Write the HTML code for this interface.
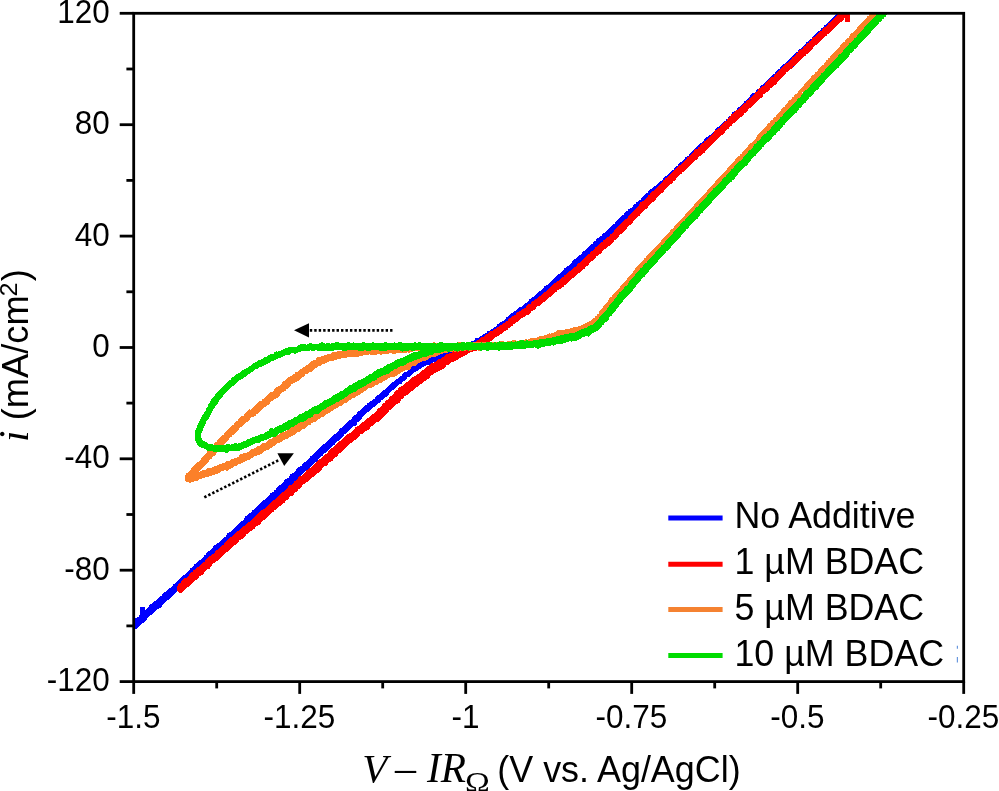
<!DOCTYPE html>
<html lang="en"><head><meta charset="utf-8"><title>CV plot</title>
<style>html,body{margin:0;padding:0;background:#fff}svg{display:block}</style></head>
<body>
<svg width="999" height="791" viewBox="0 0 999 791">
<rect width="999" height="791" fill="#fff"/>
<defs><clipPath id="cp"><rect x="133.7" y="13.3" width="830.0" height="668.3"/></clipPath></defs>
<g clip-path="url(#cp)" shape-rendering="crispEdges">
<g fill="none" stroke="#0000ff" stroke-linejoin="round" stroke-linecap="round"><path d="M134.0 624.9 L134.3 625.4 L134.5 625.5 L134.9 624.5 L135.3 623.7 L135.8 623.8 L136.5 623.5 L137.4 623.0 L137.9 621.4 L138.5 620.7 L139.2 621.0 L139.9 620.3 L140.8 620.1" stroke-width="7.50"/><path d="M140.8 620.1 L141.7 619.1 L142.3 617.9 L143.0 617.1 L143.6 617.9 L144.3 616.1 L145.0 615.0 L145.7 614.1 L146.4 614.0 L147.2 613.4 L147.9 612.5 L148.6 612.0 L149.4 611.5" stroke-width="7.48"/><path d="M149.4 611.5 L150.1 611.0 L150.8 610.6 L151.5 609.5 L152.3 607.8 L152.9 608.3 L153.6 606.7 L154.3 606.6 L155.2 605.2 L156.1 605.1 L156.9 604.1 L157.7 603.8 L158.4 604.8" stroke-width="7.46"/><path d="M158.4 604.8 L159.2 602.7 L159.9 602.3 L160.7 600.6 L161.6 600.2 L162.4 600.0 L163.1 599.1 L163.8 598.7 L164.4 598.0 L165.3 596.7 L166.1 596.7 L166.9 595.3 L167.7 595.9" stroke-width="7.43"/><path d="M167.7 595.9 L168.5 594.2 L169.2 593.9 L170.0 592.9 L170.7 592.7 L171.5 591.3 L172.2 591.3 L173.0 590.2 L173.7 590.1 L174.4 589.2 L175.1 588.3 L175.9 587.1 L176.6 587.1" stroke-width="7.40"/><path d="M176.6 587.1 L177.3 586.4 L178.0 586.3 L178.8 584.7 L179.6 584.3 L180.3 583.6 L181.1 582.7 L181.9 582.0 L182.7 581.2 L183.4 580.1 L184.1 579.2 L184.9 578.8 L185.6 578.6" stroke-width="7.37"/><path d="M185.6 578.6 L186.3 578.5 L187.0 577.7 L187.7 577.0 L188.5 576.2 L189.2 575.4 L190.0 574.4 L190.7 574.0 L191.5 573.8 L192.2 572.1 L193.0 571.1 L193.7 571.7 L194.5 570.3" stroke-width="7.35"/><path d="M194.5 570.3 L195.3 569.8 L196.0 569.1 L196.8 567.4 L197.6 568.3 L198.3 567.5 L199.1 566.0 L199.9 565.4 L200.6 564.4 L201.4 563.2 L202.2 562.8 L202.9 562.3 L203.7 562.0" stroke-width="7.32"/><path d="M203.7 562.0 L204.4 561.2 L205.2 560.2 L205.9 560.1 L206.7 558.4 L207.4 558.3 L208.2 557.9 L208.9 556.5 L209.7 555.0 L210.4 554.6 L211.2 554.5 L211.9 554.1 L212.7 553.9" stroke-width="7.30"/><path d="M212.7 553.9 L213.4 552.0 L214.2 551.6 L214.9 551.4 L215.6 550.4 L216.2 548.6 L216.9 549.4 L217.6 549.7 L218.3 548.6 L219.0 546.9 L219.7 546.3 L220.4 546.0 L221.1 546.5" stroke-width="7.27"/><path d="M221.1 546.5 L221.8 545.1 L222.5 544.1 L223.2 544.1 L223.9 542.8 L224.6 543.0 L225.4 541.2 L226.1 540.4 L226.8 540.4 L227.5 540.2 L228.2 539.2 L228.9 538.3 L229.6 536.6" stroke-width="7.25"/><path d="M229.6 536.6 L230.3 536.3 L231.0 535.7 L231.7 535.1 L232.4 535.1 L233.1 534.0 L233.8 533.9 L234.5 533.0 L235.2 532.1 L235.9 531.6 L236.6 531.2 L237.4 530.7 L238.2 529.3" stroke-width="7.23"/><path d="M238.2 529.3 L239.0 528.6 L239.8 527.4 L240.5 528.0 L241.3 527.5 L242.1 525.9 L242.8 525.0 L243.6 523.9 L244.3 523.8 L245.0 523.3 L245.8 523.6 L246.5 522.1 L247.2 520.8" stroke-width="7.20"/><path d="M247.2 520.8 L247.9 519.2 L248.6 520.4 L249.3 519.4 L250.0 517.8 L250.6 517.9 L251.3 516.5 L252.0 518.3 L252.7 516.9 L253.4 515.8 L254.0 514.8 L254.7 513.1 L255.4 513.3" stroke-width="7.18"/><path d="M255.4 513.3 L256.1 512.1 L256.8 512.4 L257.5 510.5 L258.1 510.3 L258.8 510.8 L259.5 510.6 L260.3 508.5 L261.0 507.4 L261.8 507.8 L262.5 507.3 L263.2 505.7 L264.0 505.0" stroke-width="7.15"/><path d="M264.0 505.0 L264.7 504.4 L265.4 503.4 L266.2 502.9 L266.9 503.2 L267.7 502.3 L268.5 502.3 L269.2 500.6 L269.9 499.8 L270.6 498.7 L271.3 498.4 L272.0 497.2 L272.7 496.2" stroke-width="7.12"/><path d="M272.7 496.2 L273.4 496.7 L274.1 496.6 L274.8 495.7 L275.5 495.3 L276.2 494.1 L277.0 492.8 L277.7 492.4 L278.5 491.5 L279.2 490.4 L280.0 489.4 L280.7 488.7 L281.5 488.8" stroke-width="7.10"/><path d="M281.5 488.8 L282.2 488.3 L283.0 487.3 L283.7 487.5 L284.5 486.3 L285.2 485.7 L286.0 485.4 L286.7 483.7 L287.5 482.3 L288.2 482.8 L289.0 481.6 L289.7 481.8 L290.4 480.8" stroke-width="7.07"/><path d="M290.4 480.8 L291.2 480.4 L291.9 479.6 L292.6 477.5 L293.4 478.0 L294.1 476.8 L294.9 476.0 L295.6 475.5 L296.3 475.4 L297.1 474.9 L297.8 474.2 L298.6 472.2 L299.3 471.9" stroke-width="7.04"/><path d="M299.3 471.9 L300.1 470.3 L300.8 470.6 L301.6 470.4 L302.3 469.1 L303.1 468.9 L303.8 468.2 L304.6 467.9 L305.3 466.4 L306.0 465.6 L306.7 464.9 L307.5 465.5 L308.2 464.7" stroke-width="7.02"/><path d="M308.2 464.7 L308.9 463.4 L309.6 462.8 L310.3 462.1 L311.1 461.4 L311.8 460.6 L312.5 459.8 L313.2 458.7 L313.9 458.2 L314.7 458.7 L315.4 457.7 L316.1 456.7 L316.8 455.9" stroke-width="7.00"/><path d="M316.8 455.9 L317.5 455.3 L318.2 454.8 L318.9 453.7 L319.6 453.4 L320.4 452.8 L321.1 451.6 L321.8 450.9 L322.5 450.1 L323.2 449.4 L323.9 449.7 L324.6 447.5 L325.4 447.7" stroke-width="6.98"/><path d="M325.4 447.7 L326.1 447.0 L326.8 446.3 L327.5 446.0 L328.2 445.9 L329.0 444.7 L329.7 443.9 L330.4 443.0 L331.1 442.5 L331.9 442.4 L332.6 441.1 L333.3 439.9 L334.1 439.1" stroke-width="6.95"/><path d="M334.1 439.1 L334.9 438.5 L335.6 437.6 L336.4 438.1 L337.1 437.2 L337.9 436.2 L338.7 436.3 L339.4 434.6 L340.2 434.5 L340.9 433.9 L341.7 432.0 L342.4 431.1 L343.2 430.7" stroke-width="6.93"/><path d="M343.2 430.7 L343.9 431.0 L344.7 430.6 L345.4 428.7 L346.2 428.9 L346.9 427.7 L347.7 426.9 L348.4 426.1 L349.1 425.5 L349.8 424.1 L350.6 423.7 L351.3 422.9 L352.1 423.0" stroke-width="6.88"/><path d="M352.1 423.0 L352.9 423.2 L353.7 422.9 L354.4 420.7 L355.1 419.1 L355.9 418.9 L356.6 417.9 L357.4 418.6 L358.0 417.5 L358.6 416.2 L359.1 416.3 L359.7 415.7 L360.3 414.0" stroke-width="6.69"/><path d="M360.3 414.0 L361.0 413.7 L361.9 413.1 L362.8 412.4 L363.5 411.8 L364.3 410.9 L365.0 410.5 L365.8 409.5 L366.5 408.6 L367.3 409.1 L368.0 408.1 L368.8 407.4 L369.6 405.7" stroke-width="6.40"/><path d="M369.6 405.7 L370.3 405.6 L371.1 405.6 L371.9 403.9 L372.6 404.3 L373.4 403.1 L374.2 402.8 L375.0 401.9 L375.7 401.4 L376.5 401.2 L377.3 399.9 L378.0 400.1 L378.8 398.4" stroke-width="6.17"/><path d="M378.8 398.4 L379.5 397.6 L380.3 397.7 L381.0 396.3 L381.7 395.9 L382.5 395.9 L383.2 395.5 L384.0 393.4 L384.7 393.7 L385.5 393.9 L386.2 393.0 L386.9 391.6 L387.7 390.7" stroke-width="5.95"/><path d="M387.7 390.7 L388.4 390.1 L389.2 389.1 L389.9 388.8 L390.6 388.3 L391.3 387.7 L392.0 387.7 L392.7 386.5 L393.4 385.2 L394.1 385.7 L394.8 384.3 L395.5 383.9 L396.1 383.5" stroke-width="5.75"/><path d="M396.1 383.5 L397.1 382.6 L398.0 381.5 L398.9 381.1 L399.7 381.6 L400.6 379.7 L401.4 379.1 L402.1 379.0 L402.9 378.3 L403.6 377.7 L404.4 377.1 L405.1 375.1 L405.8 374.9" stroke-width="5.61"/><path d="M405.8 374.9 L406.5 374.9 L407.2 374.6 L407.9 374.5 L408.6 373.6 L409.3 372.7 L410.0 372.2 L410.7 371.6 L411.4 371.2 L412.1 371.0 L412.8 370.0 L413.5 369.2 L414.2 368.6" stroke-width="5.60"/><path d="M414.2 368.6 L414.9 369.1 L415.6 368.8 L416.3 368.3 L417.0 367.7 L417.7 367.3 L418.3 366.4 L419.0 366.3 L419.6 365.1 L420.9 364.6 L422.1 363.7 L423.3 363.9 L424.4 362.8" stroke-width="5.61"/><path d="M424.4 362.8 L425.5 362.5 L426.6 362.3 L427.7 362.4 L428.8 361.0 L430.0 360.3 L431.2 360.7 L432.4 359.4 L433.7 359.6 L434.9 358.7 L436.2 358.5 L437.5 357.2 L438.7 357.9" stroke-width="5.82"/><path d="M438.7 357.9 L440.0 357.0 L441.2 356.3 L442.4 357.3 L443.5 356.4 L444.7 357.3 L445.9 355.5 L447.1 354.4 L448.5 354.0 L449.3 354.5 L450.0 353.5 L450.8 353.3 L451.6 353.1" stroke-width="6.06"/><path d="M451.6 353.1 L452.5 352.0 L453.4 352.1 L454.3 351.5 L455.2 350.7 L456.2 351.4 L457.2 351.0 L458.1 350.4 L459.1 349.4 L460.1 348.4 L461.1 349.2 L462.1 348.7 L463.1 347.5" stroke-width="6.19"/><path d="M463.1 347.5 L464.0 347.7 L465.0 346.7 L465.9 347.0 L466.9 346.8 L467.8 346.5 L468.8 346.1 L469.7 345.7 L470.6 344.7 L471.5 344.6 L472.5 344.2 L473.4 343.9 L474.4 343.8" stroke-width="6.32"/><path d="M474.4 343.8 L475.4 343.5 L476.4 343.6 L477.4 341.1 L478.4 341.7 L479.5 341.0 L480.6 341.6 L481.4 340.7 L482.1 338.9 L482.9 339.2 L483.7 338.4 L484.5 338.6 L485.4 337.2" stroke-width="6.45"/><path d="M485.4 337.2 L486.2 337.0 L487.0 336.4 L487.9 335.9 L488.7 335.1 L489.6 333.9 L490.5 334.3 L491.3 334.2 L492.2 333.1 L493.1 332.0 L494.0 331.9 L494.8 331.5 L495.7 330.6" stroke-width="6.57"/><path d="M495.7 330.6 L496.6 330.0 L497.4 330.1 L498.3 328.4 L499.1 327.9 L500.0 326.6 L500.8 326.5 L501.6 325.9 L502.5 325.2 L503.3 324.7 L504.2 325.3 L505.0 323.8 L505.9 323.1" stroke-width="6.70"/><path d="M505.9 323.1 L506.7 323.5 L507.6 321.9 L508.5 320.2 L509.3 320.5 L510.2 319.2 L511.0 319.8 L511.9 317.8 L512.7 317.3 L513.5 316.1 L514.3 316.3 L515.1 315.2 L515.9 315.0" stroke-width="6.82"/><path d="M515.9 315.0 L516.6 314.3 L517.3 313.6 L518.0 313.8 L519.0 313.1 L520.0 311.9 L520.7 310.8 L521.5 310.1 L522.5 310.1 L523.2 310.8 L523.8 309.3 L524.6 308.4 L525.7 307.6" stroke-width="6.96"/><path d="M525.7 307.6 L526.6 306.7 L527.4 306.0 L528.3 305.7 L529.1 305.9 L530.0 304.6 L530.7 303.7 L531.4 302.5 L532.1 302.7 L532.8 302.1 L533.5 300.9 L534.2 300.3 L534.9 300.2" stroke-width="7.10"/><path d="M534.9 300.2 L535.6 300.2 L536.4 299.4 L537.1 298.6 L537.8 297.7 L538.6 297.3 L539.4 296.4 L540.2 296.8 L541.0 294.6 L541.8 294.0 L542.7 294.2 L543.4 292.9 L544.2 293.0" stroke-width="7.23"/><path d="M544.2 293.0 L544.9 291.7 L545.7 291.0 L546.4 290.1 L547.2 288.9 L547.9 288.4 L548.7 289.3 L549.5 288.1 L550.2 287.3 L551.0 286.8 L551.8 286.0 L552.5 285.5 L553.3 284.2" stroke-width="7.35"/><path d="M553.3 284.2 L554.1 283.4 L554.9 283.4 L555.6 282.1 L556.4 280.8 L557.2 280.6 L557.9 279.9 L558.7 279.8 L559.4 278.5 L560.2 277.6 L560.9 277.3 L561.6 277.6 L562.4 276.3" stroke-width="7.46"/><path d="M562.4 276.3 L563.1 275.7 L563.8 275.0 L564.6 274.4 L565.4 274.1 L566.2 273.7 L566.9 271.5 L567.7 272.1 L568.5 270.9 L569.2 270.0 L570.0 270.7 L570.7 268.9 L571.4 269.2" stroke-width="7.57"/><path d="M571.4 269.2 L572.1 268.2 L572.9 266.5 L573.6 266.4 L574.3 266.0 L575.0 264.9 L575.7 263.1 L576.4 263.3 L577.1 262.9 L577.8 261.8 L578.5 262.6 L579.2 261.1 L579.9 260.3" stroke-width="7.59"/><path d="M579.9 260.3 L580.6 259.6 L581.3 258.8 L582.0 258.1 L582.7 257.9 L583.4 257.5 L584.1 256.5 L584.7 256.0 L585.4 254.7 L586.2 254.9 L587.0 253.6 L587.8 253.3 L588.6 252.1" stroke-width="7.57"/><path d="M588.6 252.1 L589.4 251.5 L590.1 251.2 L590.9 249.8 L591.6 250.9 L592.4 249.2 L593.1 248.3 L593.8 247.3 L594.5 247.8 L595.2 247.2 L596.0 246.0 L596.7 244.4 L597.3 244.1" stroke-width="7.56"/><path d="M597.3 244.1 L598.0 244.1 L598.7 243.0 L599.3 242.0 L600.0 241.3 L600.7 240.8 L601.5 240.6 L602.2 239.6 L603.0 239.2 L603.8 239.9 L604.7 238.8 L605.5 236.5 L606.3 236.3" stroke-width="7.54"/><path d="M606.3 236.3 L607.1 235.5 L607.8 234.7 L608.5 234.6 L609.3 233.3 L610.0 232.6 L610.7 231.9 L611.4 231.3 L612.1 231.4 L612.9 230.5 L613.6 228.7 L614.4 228.3 L615.2 227.4" stroke-width="7.52"/><path d="M615.2 227.4 L616.1 227.4 L616.9 226.5 L617.6 226.1 L618.4 225.0 L619.1 223.3 L619.8 223.7 L620.6 223.0 L621.4 222.3 L622.3 220.7 L623.1 220.5 L623.8 219.5 L624.5 218.8" stroke-width="7.51"/><path d="M624.5 218.8 L625.2 218.7 L625.9 218.1 L626.6 216.8 L627.4 215.6 L628.1 214.5 L628.9 214.6 L629.6 214.9 L630.4 213.8 L631.2 211.9 L631.9 211.7 L632.7 211.7 L633.5 211.7" stroke-width="7.49"/><path d="M633.5 211.7 L634.3 210.8 L635.1 209.6 L635.9 208.7 L636.6 207.3 L637.4 206.8 L638.2 206.2 L639.0 205.2 L639.8 204.9 L640.6 204.0 L641.4 203.5 L642.2 203.4 L643.0 202.4" stroke-width="7.47"/><path d="M643.0 202.4 L643.8 201.5 L644.6 200.4 L645.4 199.0 L646.2 198.8 L646.9 198.6 L647.7 197.1 L648.5 197.5 L649.2 196.1 L650.0 195.7 L650.7 194.7 L651.4 193.6 L652.1 194.6" stroke-width="7.46"/><path d="M652.1 194.6 L652.8 192.6 L653.5 192.8 L654.2 191.5 L655.0 191.1 L655.7 190.0 L656.5 189.4 L657.2 189.5 L657.9 189.5 L658.7 187.5 L659.4 187.2 L660.1 187.0 L660.9 185.7" stroke-width="7.44"/><path d="M660.9 185.7 L661.6 185.6 L662.3 184.3 L663.2 184.2 L664.0 183.4 L664.8 183.1 L665.6 182.0 L666.4 180.5 L667.2 180.6 L667.9 179.2 L668.7 179.3 L669.5 179.1 L670.3 178.0" stroke-width="7.42"/><path d="M670.3 178.0 L671.1 176.6 L671.8 176.7 L672.6 175.6 L673.4 174.1 L674.2 173.7 L674.9 174.0 L675.7 172.6 L676.4 172.0 L677.1 171.1 L677.8 169.8 L678.6 169.6 L679.3 169.4" stroke-width="7.41"/><path d="M679.3 169.4 L680.0 168.7 L680.7 167.8 L681.5 166.1 L682.2 167.0 L682.9 166.3 L683.6 165.7 L684.4 165.2 L685.1 163.7 L685.8 162.8 L686.6 162.5 L687.3 162.6 L688.0 160.3" stroke-width="7.39"/><path d="M688.0 160.3 L688.8 160.1 L689.5 159.3 L690.2 159.2 L690.9 159.0 L691.7 157.6 L692.4 156.3 L693.1 156.1 L693.8 155.4 L694.6 154.0 L695.3 154.5 L696.0 153.2 L696.8 153.0" stroke-width="7.36"/><path d="M696.8 153.0 L697.5 151.4 L698.3 151.8 L699.0 149.9 L699.8 150.3 L700.5 148.3 L701.3 149.0 L702.0 147.6 L702.7 146.2 L703.5 146.1 L704.2 145.7 L705.0 144.4 L705.7 143.9" stroke-width="7.34"/><path d="M705.7 143.9 L706.5 143.6 L707.2 142.7 L707.9 140.6 L708.6 141.0 L709.4 140.9 L710.1 140.2 L710.8 139.8 L711.6 138.3 L712.3 139.2 L713.0 137.8 L713.8 136.8 L714.5 136.4" stroke-width="7.31"/><path d="M714.5 136.4 L715.2 135.7 L716.0 134.6 L716.7 133.4 L717.4 133.5 L718.2 132.6 L718.9 130.7 L719.6 130.2 L720.4 130.3 L721.1 129.6 L721.8 129.0 L722.6 128.5 L723.3 127.5" stroke-width="7.29"/><path d="M723.3 127.5 L724.0 127.5 L724.8 125.8 L725.5 125.1 L726.2 124.7 L726.9 124.3 L727.6 123.7 L728.3 123.4 L729.0 121.8 L729.8 121.8 L730.5 120.9 L731.2 119.4 L731.9 119.1" stroke-width="7.27"/><path d="M731.9 119.1 L732.6 119.6 L733.3 118.4 L734.0 117.0 L734.7 115.3 L735.4 115.3 L736.1 114.7 L736.9 114.4 L737.6 114.9 L738.4 113.5 L739.1 112.5 L739.9 111.1 L740.6 110.2" stroke-width="7.25"/><path d="M740.6 110.2 L741.4 109.9 L742.1 109.1 L742.9 110.2 L743.6 108.0 L744.4 107.0 L745.1 107.1 L745.8 106.0 L746.5 104.6 L747.2 105.1 L747.9 103.8 L748.6 102.5 L749.3 102.6" stroke-width="7.22"/><path d="M749.3 102.6 L750.0 102.1 L750.7 101.1 L751.4 100.9 L752.1 100.3 L752.8 98.8 L753.5 97.5 L754.2 96.5 L754.9 97.0 L755.6 97.1 L756.3 96.5 L757.0 96.0 L757.6 95.6" stroke-width="7.20"/><path d="M757.6 95.6 L758.3 94.1 L759.0 93.8 L759.8 91.9 L760.5 92.1 L761.2 91.4 L762.0 90.4 L762.7 89.5 L763.5 88.5 L764.2 88.3 L764.9 88.3 L765.7 86.9 L766.4 86.5" stroke-width="7.20"/><path d="M766.4 86.5 L767.1 85.3 L767.9 84.9 L768.6 83.7 L769.4 83.5 L770.2 82.6 L771.0 82.1 L771.8 80.9 L772.5 79.8 L773.3 79.4 L774.1 79.4 L774.8 79.1 L775.6 77.5" stroke-width="7.20"/><path d="M775.6 77.5 L776.3 77.2 L777.1 76.5 L777.9 75.5 L778.7 73.8 L779.5 73.8 L780.3 72.5 L781.1 72.8 L781.8 72.1 L782.5 71.3 L783.3 69.0 L784.0 69.6 L784.8 69.2" stroke-width="7.20"/><path d="M784.8 69.2 L785.5 67.5 L786.3 67.8 L787.0 66.7 L787.8 65.9 L788.5 64.9 L789.3 63.9 L790.0 63.5 L790.7 64.6 L791.4 62.8 L792.1 61.9 L792.8 60.8 L793.5 60.1" stroke-width="7.20"/><path d="M793.5 60.1 L794.2 59.4 L794.9 58.6 L795.7 58.8 L796.4 57.7 L797.1 57.5 L797.8 55.8 L798.6 56.0 L799.3 55.0 L800.0 54.6 L800.8 53.6 L801.5 52.4 L802.2 52.7" stroke-width="7.20"/><path d="M802.2 52.7 L803.0 51.3 L803.7 50.7 L804.4 49.6 L805.1 49.4 L805.8 48.5 L806.6 48.2 L807.3 47.5 L808.0 46.4 L808.7 45.2 L809.4 45.4 L810.1 45.1 L810.8 44.4" stroke-width="7.20"/><path d="M810.8 44.4 L811.6 42.8 L812.3 42.8 L813.0 42.1 L813.7 41.4 L814.5 40.7 L815.2 39.7 L815.9 39.2 L816.7 38.9 L817.4 37.5 L818.1 36.3 L818.8 36.2 L819.6 35.7" stroke-width="7.20"/><path d="M819.6 35.7 L820.3 34.1 L821.0 33.8 L821.7 33.9 L822.4 32.9 L823.1 32.3 L823.8 31.0 L824.5 31.3 L825.2 31.2 L825.9 29.7 L826.6 28.6 L827.3 27.7 L828.0 28.0" stroke-width="7.20"/><path d="M828.0 28.0 L828.7 27.1 L829.4 25.9 L830.1 26.2 L830.8 25.4 L831.5 24.7 L832.2 22.8 L832.9 22.8 L833.6 22.6 L834.3 21.0 L835.0 21.3 L835.8 21.0 L836.5 20.1" stroke-width="7.20"/><path d="M836.5 20.1 L837.2 18.5 L838.0 17.7 L838.7 17.8 L839.4 17.3 L840.2 16.7 L840.9 16.0 L841.6 14.7 L842.3 13.8 L843.1 12.3 L843.8 12.8 L844.5 11.9" stroke-width="7.20"/></g>
<rect x="139.6" y="607" width="5" height="8" fill="#0000ff"/>
<g fill="none" stroke="#ff0000" stroke-linejoin="round" stroke-linecap="round"><path d="M180.5 588.8 L181.3 587.0 L182.0 586.1 L182.8 586.0 L183.6 585.2 L184.4 583.7 L185.1 583.2 L185.9 582.3 L186.7 583.2 L187.5 581.3 L188.3 581.2 L189.1 581.1 L189.9 580.5" stroke-width="7.81"/><path d="M189.9 580.5 L190.7 579.6 L191.5 579.0 L192.3 576.9 L193.0 576.4 L193.8 575.6 L194.5 575.1 L195.3 576.0 L196.1 573.4 L196.8 573.5 L197.6 572.1 L198.3 572.6 L199.1 572.1" stroke-width="7.83"/><path d="M199.1 572.1 L199.9 570.5 L200.6 571.0 L201.4 569.5 L202.1 569.4 L202.9 568.3 L203.6 567.1 L204.4 566.5 L205.2 565.9 L205.9 565.6 L206.7 564.8 L207.4 565.2 L208.2 563.4" stroke-width="7.84"/><path d="M208.2 563.4 L209.0 562.4 L209.8 561.6 L210.5 560.8 L211.3 559.8 L212.1 559.3 L212.9 559.6 L213.6 558.6 L214.4 557.8 L215.2 557.3 L216.0 557.1 L216.7 556.2 L217.5 555.6" stroke-width="7.86"/><path d="M217.5 555.6 L218.2 554.3 L219.0 553.7 L219.7 552.8 L220.5 552.4 L221.2 551.5 L222.0 551.0 L222.7 550.4 L223.5 549.8 L224.2 549.1 L225.0 548.3 L225.7 548.5 L226.5 547.2" stroke-width="7.87"/><path d="M226.5 547.2 L227.2 546.1 L227.9 546.0 L228.7 544.8 L229.4 544.0 L230.2 543.9 L230.9 542.5 L231.7 541.0 L232.4 541.9 L233.2 541.8 L234.0 539.9 L234.7 539.4 L235.5 539.5" stroke-width="7.89"/><path d="M235.5 539.5 L236.3 537.7 L237.0 537.4 L237.8 536.6 L238.6 536.4 L239.4 534.9 L240.2 535.5 L241.0 534.4 L241.9 533.9 L242.7 532.9 L243.5 531.2 L244.3 531.3 L245.1 530.1" stroke-width="7.90"/><path d="M245.1 530.1 L245.9 530.0 L246.8 529.0 L247.5 528.6 L248.2 528.0 L248.9 527.9 L249.6 527.4 L250.3 525.9 L251.1 525.6 L251.9 525.7 L252.6 524.6 L253.4 523.3 L254.1 522.8" stroke-width="7.92"/><path d="M254.1 522.8 L254.9 522.1 L255.6 522.1 L256.3 521.1 L257.0 520.6 L257.7 520.9 L258.4 518.6 L259.1 518.0 L259.9 516.9 L260.6 516.3 L261.3 516.9 L262.1 516.1 L262.9 516.1" stroke-width="7.94"/><path d="M262.9 516.1 L263.7 513.7 L264.5 513.2 L265.3 513.7 L266.1 513.0 L267.0 512.1 L267.8 511.4 L268.7 510.2 L269.5 509.4 L270.3 508.7 L271.1 508.4 L271.9 507.2 L272.8 506.7" stroke-width="7.95"/><path d="M272.8 506.7 L273.6 506.6 L274.4 504.6 L275.2 503.9 L276.0 503.9 L276.8 502.8 L277.6 502.1 L278.4 502.5 L279.3 501.1 L280.1 499.9 L280.9 499.8 L281.8 499.9 L282.5 497.6" stroke-width="7.97"/><path d="M282.5 497.6 L283.2 496.9 L283.9 496.7 L284.5 495.8 L285.2 496.5 L286.0 495.2 L286.7 494.0 L287.4 493.8 L288.2 492.5 L288.9 491.9 L289.7 491.6 L290.5 492.1 L291.2 489.2" stroke-width="7.99"/><path d="M291.2 489.2 L292.0 489.6 L292.8 489.5 L293.5 488.6 L294.2 488.6 L294.9 487.3 L295.6 486.4 L296.3 485.6 L297.0 484.6 L297.8 485.1 L298.6 483.2 L299.3 482.9 L300.1 482.1" stroke-width="8.05"/><path d="M300.1 482.1 L300.8 481.3 L301.6 479.9 L302.4 480.0 L303.2 479.6 L304.0 479.0 L304.8 478.7 L305.6 477.5 L306.4 476.5 L307.1 476.3 L307.8 475.9 L308.5 474.6 L309.1 473.5" stroke-width="8.20"/><path d="M309.1 473.5 L309.8 473.1 L310.5 473.6 L311.2 473.1 L311.9 471.5 L312.6 471.3 L313.3 471.1 L314.0 470.8 L314.7 469.2 L315.5 468.6 L316.2 468.9 L317.0 468.8 L317.8 467.7" stroke-width="8.33"/><path d="M317.8 467.7 L318.6 465.6 L319.4 465.5 L320.2 464.5 L321.0 463.9 L321.8 462.9 L322.5 462.3 L323.3 461.8 L324.1 462.1 L324.9 461.0 L325.6 460.1 L326.4 459.3 L327.1 458.2" stroke-width="8.47"/><path d="M327.1 458.2 L327.8 457.7 L328.5 457.9 L329.3 457.1 L330.0 457.1 L330.7 455.7 L331.4 454.8 L332.1 453.4 L332.8 453.6 L333.5 452.1 L334.2 453.0 L335.0 451.4 L335.8 450.9" stroke-width="8.57"/><path d="M335.8 450.9 L336.6 449.5 L337.5 449.1 L338.3 448.2 L339.1 448.5 L339.9 447.5 L340.7 446.1 L341.5 444.9 L342.3 445.1 L343.1 444.3 L343.9 443.3 L344.6 443.4 L345.4 442.5" stroke-width="8.50"/><path d="M345.4 442.5 L346.2 441.9 L346.9 440.9 L347.7 440.2 L348.4 439.6 L349.2 438.4 L349.9 438.8 L350.7 438.2 L351.4 436.6 L352.1 436.7 L352.8 436.7 L353.5 435.7 L354.4 435.5" stroke-width="8.41"/><path d="M354.4 435.5 L355.2 434.1 L356.0 433.4 L356.9 432.0 L357.7 431.4 L358.4 430.3 L359.2 430.1 L360.0 430.0 L360.7 429.7 L361.4 429.5 L362.1 428.4 L362.8 427.2 L363.6 427.2" stroke-width="8.34"/><path d="M363.6 427.2 L364.4 426.3 L365.2 426.6 L366.0 426.3 L366.7 425.3 L367.4 423.6 L368.1 423.2 L368.8 423.1 L369.5 422.2 L370.4 422.0 L371.4 421.4 L372.1 420.9 L372.8 420.1" stroke-width="8.51"/><path d="M372.8 420.1 L373.5 419.0 L374.2 418.3 L374.9 418.1 L375.6 418.2 L376.4 417.8 L377.2 416.8 L378.0 415.8 L378.7 415.3 L379.3 414.8 L380.0 414.4 L380.6 413.6 L381.3 411.7" stroke-width="8.78"/><path d="M381.3 411.7 L382.0 412.1 L382.7 411.3 L383.4 410.2 L384.1 409.9 L384.8 409.1 L385.6 408.2 L386.3 406.7 L387.0 406.7 L387.7 406.3 L388.5 405.3 L389.2 403.8 L390.0 404.0" stroke-width="9.07"/><path d="M390.0 404.0 L390.7 403.5 L391.4 402.5 L392.2 401.9 L392.9 400.8 L393.6 399.8 L394.4 399.7 L395.1 398.6 L395.8 398.1 L396.5 399.0 L397.2 397.3 L397.9 396.2 L398.6 394.6" stroke-width="9.38"/><path d="M398.6 394.6 L399.3 394.7 L400.0 394.5 L400.7 393.2 L401.4 392.8 L402.1 391.2 L402.7 391.8 L403.4 390.9 L404.1 390.9 L404.8 390.8 L405.5 389.5 L406.2 389.4 L406.9 388.5" stroke-width="9.61"/><path d="M406.9 388.5 L407.6 387.7 L408.3 387.1 L408.9 386.3 L409.8 386.6 L410.7 385.8 L411.6 384.2 L412.5 384.3 L413.4 383.0 L414.2 381.8 L415.1 382.5 L415.9 380.9 L416.7 381.3" stroke-width="9.70"/><path d="M416.7 381.3 L417.4 380.4 L418.2 380.2 L418.9 379.4 L419.9 379.0 L420.9 377.9 L421.7 377.3 L422.6 376.5 L423.2 376.3 L423.9 375.1 L425.1 374.8 L426.1 374.3 L427.0 372.9" stroke-width="9.79"/><path d="M427.0 372.9 L427.9 372.3 L428.9 371.1 L430.0 370.4 L431.2 369.9 L432.4 368.9 L433.7 367.8 L434.9 367.5 L436.2 366.9 L437.5 366.3 L438.7 365.8 L440.0 363.8 L441.2 364.4" stroke-width="9.62"/><path d="M441.2 364.4 L442.4 363.0 L443.6 361.8 L444.8 361.1 L446.0 360.7 L446.7 360.6 L447.3 359.6 L448.0 359.3 L448.7 358.1 L449.5 358.4 L450.2 357.9 L451.0 357.3 L451.8 357.5" stroke-width="8.98"/><path d="M451.8 357.5 L452.7 357.7 L453.6 356.9 L454.5 355.5 L455.4 356.1 L456.3 354.9 L457.3 354.4 L458.2 353.7 L459.2 353.8 L460.2 353.4 L461.1 352.8 L462.1 352.1 L463.1 351.6" stroke-width="8.40"/><path d="M463.1 351.6 L464.0 351.1 L465.0 351.3 L465.9 350.2 L466.9 349.8 L467.8 349.3 L468.7 348.6 L469.7 348.4 L470.6 347.4 L471.5 347.8 L472.5 347.6 L473.4 346.7 L474.4 347.1" stroke-width="7.85"/><path d="M474.4 347.1 L475.4 345.6 L476.4 345.6 L477.4 345.1 L478.4 344.0 L479.1 343.7 L479.9 343.8 L480.6 343.1 L481.4 342.7 L482.1 342.8 L482.9 341.8 L483.7 340.3 L484.5 340.1" stroke-width="7.44"/><path d="M484.5 340.1 L485.4 340.4 L486.2 339.5 L487.0 338.4 L487.9 337.3 L488.7 337.8 L489.6 338.0 L490.5 336.1 L491.3 334.9 L492.2 335.5 L493.1 334.6 L494.0 334.1 L494.8 333.5" stroke-width="7.22"/><path d="M494.8 333.5 L495.7 332.6 L496.6 332.6 L497.4 332.3 L498.3 331.5 L499.1 330.4 L500.0 330.6 L500.8 329.5 L501.6 329.2 L502.5 327.9 L503.3 328.0 L504.2 327.5 L505.0 327.2" stroke-width="7.03"/><path d="M505.0 327.2 L505.9 325.9 L506.7 325.4 L507.6 324.3 L508.5 324.3 L509.3 323.7 L510.2 323.2 L511.0 321.9 L511.9 320.8 L512.7 320.6 L513.5 320.0 L514.3 319.2 L515.1 319.2" stroke-width="6.95"/><path d="M515.1 319.2 L515.9 318.9 L516.6 318.1 L517.3 317.9 L518.0 317.0 L519.0 315.6 L520.0 314.9 L520.7 314.5 L521.5 314.6 L522.5 314.1 L523.2 313.4 L523.8 313.4 L524.6 312.0" stroke-width="6.91"/><path d="M524.6 312.0 L525.7 311.5 L526.6 311.7 L527.4 310.6 L528.3 310.2 L529.1 308.1 L530.0 307.3 L530.9 307.0 L531.7 307.3 L532.6 307.1 L533.5 305.4 L534.4 304.4 L535.2 303.6" stroke-width="6.90"/><path d="M535.2 303.6 L536.1 303.0 L536.9 303.0 L537.8 302.0 L538.6 302.4 L539.4 301.4 L540.2 300.0 L541.0 299.6 L541.8 298.9 L542.7 298.7 L543.4 298.2 L544.2 297.0 L544.9 296.9" stroke-width="6.93"/><path d="M544.9 296.9 L545.7 296.2 L546.4 295.3 L547.2 294.8 L547.9 294.4 L548.7 293.4 L549.5 292.5 L550.2 292.8 L551.0 291.7 L551.8 290.7 L552.5 290.5 L553.3 289.0 L554.1 289.0" stroke-width="6.95"/><path d="M554.1 289.0 L554.9 287.8 L555.6 287.5 L556.4 286.3 L557.2 286.1 L557.9 286.3 L558.7 285.3 L559.4 284.1 L560.2 284.9 L560.9 283.3 L561.6 283.6 L562.4 282.2 L563.1 281.0" stroke-width="6.97"/><path d="M563.1 281.0 L563.8 281.9 L564.6 280.4 L565.4 280.2 L566.2 279.8 L566.9 278.0 L567.7 277.8 L568.5 276.9 L569.2 276.8 L570.0 276.0 L570.7 274.7 L571.4 274.6 L572.1 274.5" stroke-width="7.00"/><path d="M572.1 274.5 L572.9 273.4 L573.6 273.1 L574.3 272.0 L575.0 271.5 L575.7 271.1 L576.4 270.4 L577.1 270.3 L577.8 269.6 L578.5 269.0 L579.2 268.3 L579.9 267.3 L580.6 266.0" stroke-width="7.00"/><path d="M580.6 266.0 L581.3 266.4 L582.2 266.1 L583.0 264.7 L583.8 263.7 L584.6 263.0 L585.4 262.9 L586.2 261.8 L587.0 260.4 L587.8 260.0 L588.6 259.0 L589.4 258.5 L590.1 257.5" stroke-width="7.00"/><path d="M590.1 257.5 L590.9 256.8 L591.6 257.3 L592.4 256.5 L593.1 254.5 L593.8 254.0 L594.5 253.6 L595.2 253.0 L596.0 251.9 L596.7 252.3 L597.3 250.6 L598.0 251.0 L598.7 250.5" stroke-width="7.00"/><path d="M598.7 250.5 L599.3 249.4 L600.0 248.6 L600.7 248.2 L601.5 247.6 L602.2 245.9 L603.0 245.4 L603.8 245.6 L604.7 244.6 L605.5 243.7 L606.3 242.6 L607.1 242.0 L607.8 241.3" stroke-width="7.00"/><path d="M607.8 241.3 L608.5 242.4 L609.3 240.0 L610.0 240.4 L610.7 239.4 L611.4 238.6 L612.1 237.9 L612.9 236.9 L613.6 237.1 L614.4 235.9 L615.0 235.0 L615.7 234.3 L616.3 233.8" stroke-width="7.00"/><path d="M616.3 233.8 L616.9 232.6 L617.6 232.2 L618.4 231.4 L619.1 231.3 L619.8 230.6 L620.5 228.8 L621.1 228.8 L621.8 228.8 L622.4 227.1 L623.1 226.4 L623.8 226.7 L624.5 225.6" stroke-width="7.00"/><path d="M624.5 225.6 L625.2 224.6 L625.9 223.5 L626.6 223.4 L627.4 222.4 L628.1 222.0 L628.9 221.3 L629.6 220.7 L630.4 219.5 L631.0 218.6 L631.7 218.2 L632.3 217.5 L633.0 217.0" stroke-width="7.00"/><path d="M633.0 217.0 L633.6 216.0 L634.3 215.4 L634.9 214.6 L635.6 213.9 L636.2 213.6 L636.9 213.4 L637.6 212.0 L638.2 211.7 L638.9 211.0 L639.6 210.2 L640.2 209.8 L640.9 208.5" stroke-width="7.00"/><path d="M640.9 208.5 L641.6 208.3 L642.2 207.6 L642.9 205.0 L643.5 206.0 L644.2 205.7 L644.8 205.7 L645.5 203.7 L646.2 203.4 L646.9 202.8 L647.7 201.4 L648.5 201.6 L649.2 200.6" stroke-width="7.00"/><path d="M649.2 200.6 L650.0 199.2 L650.7 198.2 L651.4 197.8 L652.1 198.5 L652.8 198.0 L653.5 195.0 L654.2 194.2 L655.0 194.7 L655.7 193.7 L656.5 192.7 L657.2 192.5 L657.9 191.7" stroke-width="7.00"/><path d="M657.9 191.7 L658.7 191.0 L659.4 190.3 L660.1 188.9 L660.9 189.3 L661.6 187.8 L662.3 187.8 L663.0 187.0 L663.7 186.0 L664.3 185.4 L665.0 184.7 L665.6 183.1 L666.4 183.0" stroke-width="7.00"/><path d="M666.4 183.0 L667.2 182.7 L667.9 181.0 L668.7 180.2 L669.5 180.7 L670.2 180.1 L670.8 178.3 L671.5 178.4 L672.2 177.6 L672.9 177.5 L673.5 176.3 L674.2 175.6 L674.9 174.6" stroke-width="7.00"/><path d="M674.9 174.6 L675.7 174.3 L676.4 173.5 L677.1 172.6 L677.8 172.0 L678.6 171.1 L679.3 171.0 L680.0 169.6 L680.7 168.6 L681.5 168.1 L682.2 168.4 L682.9 167.1 L683.6 166.9" stroke-width="7.00"/><path d="M683.6 166.9 L684.4 166.3 L685.1 165.0 L685.8 164.8 L686.6 164.1 L687.3 163.1 L688.0 162.0 L688.8 161.6 L689.5 160.3 L690.2 160.1 L690.9 159.3 L691.7 159.1 L692.4 158.4" stroke-width="7.00"/><path d="M692.4 158.4 L693.1 157.2 L693.8 157.2 L694.6 156.7 L695.3 155.5 L696.0 154.4 L696.8 154.2 L697.5 152.1 L698.3 152.1 L699.0 152.1 L699.8 152.2 L700.5 150.2 L701.3 150.4" stroke-width="7.00"/><path d="M701.3 150.4 L702.0 150.2 L702.7 149.4 L703.5 146.6 L704.2 147.2 L705.0 146.3 L705.7 145.9 L706.5 144.7 L707.2 143.7 L707.9 143.2 L708.6 143.3 L709.4 142.4 L710.1 141.2" stroke-width="7.00"/><path d="M710.1 141.2 L710.8 140.7 L711.6 140.3 L712.3 139.5 L713.0 138.5 L713.8 137.4 L714.5 136.6 L715.2 136.0 L716.0 135.3 L716.7 134.1 L717.4 133.4 L718.2 133.8 L718.9 132.3" stroke-width="7.00"/><path d="M718.9 132.3 L719.6 131.4 L720.4 131.3 L721.1 131.4 L721.8 130.7 L722.6 129.2 L723.3 128.1 L724.0 127.6 L724.8 126.7 L725.5 126.2 L726.2 126.0 L726.9 124.6 L727.6 124.0" stroke-width="7.00"/><path d="M727.6 124.0 L728.3 123.6 L729.0 123.1 L729.8 122.0 L730.5 121.3 L731.2 120.5 L731.9 119.9 L732.6 119.9 L733.3 119.0 L734.0 116.8 L734.7 117.8 L735.4 117.0 L736.1 115.9" stroke-width="7.00"/><path d="M736.1 115.9 L736.9 115.4 L737.6 113.4 L738.4 113.2 L739.1 113.9 L739.9 113.9 L740.6 113.3 L741.4 111.2 L742.1 110.6 L742.9 110.3 L743.6 108.6 L744.4 109.3 L745.1 107.5" stroke-width="7.00"/><path d="M745.1 107.5 L745.8 107.2 L746.5 105.9 L747.2 105.8 L747.9 105.1 L748.6 104.9 L749.3 103.2 L750.0 103.0 L750.7 103.3 L751.4 101.3 L752.1 101.2 L752.8 100.6 L753.5 99.5" stroke-width="7.00"/><path d="M753.5 99.5 L754.2 98.9 L754.9 99.1 L755.6 98.4 L756.3 97.5 L757.0 96.6 L757.7 95.2 L758.3 95.1 L759.0 95.3 L759.8 94.4 L760.5 92.4 L761.3 91.2 L762.0 91.1" stroke-width="6.98"/><path d="M762.0 91.1 L762.7 90.9 L763.5 89.9 L764.2 89.3 L765.0 88.9 L765.7 88.6 L766.4 87.6 L767.2 87.3 L767.9 85.4 L768.6 85.4 L769.4 84.8 L770.2 83.1 L771.0 83.5" stroke-width="6.94"/><path d="M771.0 83.5 L771.8 81.6 L772.6 80.7 L773.4 82.0 L774.1 80.9 L774.9 79.7 L775.7 79.3 L776.4 78.6 L777.2 76.7 L778.0 76.6 L778.8 76.4 L779.6 74.9 L780.4 74.2" stroke-width="6.88"/><path d="M780.4 74.2 L781.1 73.2 L781.9 73.1 L782.6 71.8 L783.3 71.0 L784.1 70.0 L784.8 69.4 L785.6 69.2 L786.3 68.8 L787.0 67.7 L787.8 66.6 L788.5 66.5 L789.3 65.9" stroke-width="6.83"/><path d="M789.3 65.9 L790.0 65.7 L790.7 64.2 L791.4 63.5 L792.1 63.2 L792.8 63.2 L793.5 61.8 L794.2 61.0 L794.9 59.9 L795.6 59.5 L796.3 59.5 L797.0 58.9 L797.7 58.3" stroke-width="6.80"/><path d="M797.7 58.3 L798.4 56.3 L799.1 56.7 L799.8 55.3 L800.6 55.2 L801.3 53.2 L802.0 53.4 L802.7 52.5 L803.4 52.9 L804.1 51.8 L804.8 51.6 L805.5 50.2 L806.2 50.6" stroke-width="6.80"/><path d="M806.2 50.6 L806.9 48.9 L807.6 49.3 L808.3 47.6 L809.0 46.5 L809.7 46.7 L810.4 45.5 L811.1 45.0 L811.8 43.7 L812.5 43.4 L813.2 43.0 L813.9 42.0 L814.7 41.8" stroke-width="6.80"/><path d="M814.7 41.8 L815.4 39.9 L816.1 40.6 L816.8 39.5 L817.5 39.7 L818.2 38.3 L818.9 37.3 L819.7 36.7 L820.4 36.3 L821.2 35.8 L821.9 34.6 L822.7 33.7 L823.4 33.5" stroke-width="6.80"/><path d="M823.4 33.5 L824.2 33.1 L824.9 31.1 L825.7 30.6 L826.5 30.1 L827.2 30.6 L828.0 29.8 L828.8 28.9 L829.5 27.9 L830.3 26.4 L831.0 26.7 L831.8 25.3 L832.6 24.3" stroke-width="6.80"/><path d="M832.6 24.3 L833.3 24.9 L834.1 22.7 L834.8 23.2 L835.5 22.1 L836.3 20.8 L837.0 20.5 L837.7 19.4 L838.5 19.2 L839.2 18.1 L839.9 17.1 L840.7 18.3 L841.4 16.2" stroke-width="6.80"/><path d="M841.4 16.2 L842.1 16.1 L842.9 15.0 L843.6 14.6 L844.3 12.9 L845.0 12.2 L845.7 10.4 L846.5 11.7 L847.3 10.9 L848.1 9.2 L848.7 9.4 L848.7 9.3 L848.2 10.8" stroke-width="6.80"/><path d="M848.2 10.8 L847.6 10.0 L847.1 10.5 L847.0 10.0" stroke-width="6.80"/></g>
<rect x="845.3" y="13" width="4.8" height="8.5" fill="#ff0000"/>
<g fill="none" stroke="#fb8029" stroke-linejoin="round" stroke-linecap="round"><path d="M878.7 10.3 L878.9 10.2 L879.8 8.8 L880.4 8.0 L880.9 7.9 L881.9 7.2 L882.1 5.8 L881.2 6.6 L880.6 7.7 L880.0 9.4 L879.4 9.2 L878.8 9.0 L878.2 10.8" stroke-width="7.10"/><path d="M878.2 10.8 L877.6 11.6 L876.9 12.9 L876.3 12.8 L875.7 14.3 L875.0 13.7 L874.4 15.0 L873.7 15.5 L873.0 15.5 L872.4 16.6 L871.7 18.2 L871.0 18.9 L870.3 18.9" stroke-width="7.10"/><path d="M870.3 18.9 L869.7 20.3 L869.0 21.0 L868.3 21.7 L867.6 22.1 L866.9 22.8 L866.3 23.0 L865.6 24.0 L864.9 24.9 L864.2 25.2 L863.5 26.1 L862.9 27.1 L862.2 27.9" stroke-width="7.10"/><path d="M862.2 27.9 L861.5 29.1 L860.8 28.8 L860.1 29.7 L859.5 30.8 L858.8 31.3 L858.1 32.4 L857.4 32.8 L856.7 34.3 L856.0 34.4 L855.3 34.7 L854.6 36.3 L853.9 37.6" stroke-width="7.10"/><path d="M853.9 37.6 L853.2 36.6 L852.5 38.0 L851.8 39.0 L851.1 40.3 L850.4 41.3 L849.7 41.3 L849.0 41.2 L848.3 43.0 L847.7 44.0 L847.0 44.5 L846.3 45.0 L845.6 45.3" stroke-width="7.10"/><path d="M845.6 45.3 L844.9 47.6 L844.3 46.7 L843.6 47.0 L842.9 49.0 L842.2 49.5 L841.6 50.4 L840.9 51.0 L840.2 52.4 L839.5 53.1 L838.8 52.8 L838.2 54.2 L837.5 53.9" stroke-width="7.10"/><path d="M837.5 53.9 L836.8 54.3 L836.1 56.4 L835.5 56.5 L834.8 56.3 L834.1 57.9 L833.4 58.5 L832.8 59.8 L832.1 60.3 L831.4 60.6 L830.7 61.3 L830.1 62.8 L829.4 62.8" stroke-width="7.10"/><path d="M829.4 62.8 L828.7 63.9 L828.0 64.2 L827.4 65.6 L826.7 67.1 L826.0 67.3 L825.3 68.2 L824.7 68.6 L824.0 68.6 L823.3 69.6 L822.6 70.5 L821.9 71.5 L821.3 71.7" stroke-width="7.10"/><path d="M821.3 71.7 L820.6 73.0 L819.9 73.1 L819.2 74.2 L818.5 74.9 L817.9 75.1 L817.2 76.8 L816.5 77.2 L815.8 78.0 L815.1 78.6 L814.5 78.3 L813.8 79.2 L813.1 80.3" stroke-width="7.10"/><path d="M813.1 80.3 L812.4 82.0 L811.7 82.1 L811.1 83.3 L810.4 83.2 L809.8 83.9 L809.1 84.8 L808.4 86.4 L807.8 85.8 L807.1 87.1 L806.5 88.2 L805.8 88.8 L805.1 89.4" stroke-width="7.10"/><path d="M805.1 89.4 L804.5 90.5 L803.8 91.1 L803.2 91.1 L802.5 92.5 L801.8 92.7 L801.2 93.5 L800.5 95.1 L799.8 96.5 L799.1 96.9 L798.5 97.0 L797.8 97.1 L797.1 97.7" stroke-width="7.10"/><path d="M797.1 97.7 L796.4 99.7 L795.7 100.0 L795.0 99.8 L794.3 101.9 L793.6 102.3 L792.9 103.4 L792.3 103.7 L791.6 103.1 L790.9 104.4 L790.2 105.5 L789.5 106.3 L788.8 107.9" stroke-width="7.10"/><path d="M788.8 107.9 L788.2 107.6 L787.5 108.5 L786.9 109.2 L786.2 109.9 L785.5 110.2 L784.9 110.7 L784.2 110.7 L783.6 112.8 L782.9 113.5 L782.2 114.4 L781.6 114.5 L780.9 115.7" stroke-width="7.10"/><path d="M780.9 115.7 L780.3 116.0 L779.6 116.6 L778.9 118.0 L778.3 119.0 L777.6 119.7 L776.9 120.1 L776.2 120.6 L775.6 122.2 L774.9 123.0 L774.2 122.8 L773.6 123.2 L772.9 124.6" stroke-width="7.10"/><path d="M772.9 124.6 L772.2 125.4 L771.5 125.5 L770.9 127.8 L770.2 126.5 L769.5 127.6 L768.8 128.9 L768.2 130.1 L767.5 129.5 L766.8 130.7 L766.1 132.5 L765.5 133.4 L764.8 133.3" stroke-width="7.10"/><path d="M764.8 133.3 L764.1 134.1 L763.4 134.3 L762.8 135.7 L762.1 135.7 L761.4 135.9 L760.7 136.8 L760.1 138.4 L759.4 138.5 L758.7 140.4 L758.0 141.4 L757.4 142.0 L756.7 142.6" stroke-width="7.10"/><path d="M756.7 142.6 L756.0 143.5 L755.4 143.8 L754.7 144.8 L754.0 145.4 L753.4 146.2 L752.7 146.1 L752.0 146.9 L751.3 147.4 L750.7 149.1 L750.0 149.8 L749.3 149.8 L748.7 150.4" stroke-width="7.10"/><path d="M748.7 150.4 L748.0 151.3 L747.3 152.8 L746.7 153.1 L746.0 153.7 L745.4 154.2 L744.7 155.1 L744.0 156.8 L743.4 156.5 L742.7 157.2 L742.1 159.0 L741.4 159.3 L740.8 159.1" stroke-width="7.10"/><path d="M740.8 159.1 L740.1 160.8 L739.5 160.4 L738.8 161.9 L738.1 161.2 L737.5 162.5 L736.8 164.2 L736.2 164.3 L735.5 164.9 L734.8 166.0 L734.2 166.8 L733.5 167.3 L732.8 167.9" stroke-width="7.10"/><path d="M732.8 167.9 L732.1 169.8 L731.5 170.6 L730.8 170.8 L730.1 170.7 L729.4 171.6 L728.8 172.5 L728.1 173.6 L727.4 175.0 L726.7 174.8 L726.1 175.7 L725.4 176.2 L724.7 177.2" stroke-width="7.10"/><path d="M724.7 177.2 L724.0 177.5 L723.3 178.8 L722.6 180.0 L722.0 180.0 L721.3 180.7 L720.6 181.7 L719.9 181.7 L719.2 183.9 L718.5 183.3 L717.8 184.4 L717.1 184.9 L716.5 186.8" stroke-width="7.10"/><path d="M716.5 186.8 L715.8 186.7 L715.1 187.4 L714.4 189.3 L713.7 189.2 L713.0 189.5 L712.3 190.6 L711.6 191.5 L710.9 191.8 L710.3 192.7 L709.6 193.5 L708.9 194.7 L708.2 195.6" stroke-width="7.10"/><path d="M708.2 195.6 L707.5 196.4 L706.8 196.7 L706.1 197.8 L705.4 198.2 L704.7 199.5 L704.0 200.0 L703.3 200.3 L702.6 201.8 L701.9 201.3 L701.2 202.2 L700.5 203.1 L699.8 204.2" stroke-width="7.10"/><path d="M699.8 204.2 L699.1 204.4 L698.4 205.1 L697.7 205.5 L697.1 207.2 L696.4 207.6 L695.7 209.8 L695.1 210.0 L694.4 209.7 L693.7 211.5 L693.0 211.8 L692.4 212.9 L691.7 212.6" stroke-width="7.10"/><path d="M691.7 212.6 L691.0 214.3 L690.3 215.2 L689.6 215.2 L688.9 215.7 L688.2 216.6 L687.5 217.7 L686.9 219.6 L686.2 220.2 L685.5 220.8 L684.8 220.7 L684.1 221.2 L683.4 222.3" stroke-width="7.10"/><path d="M683.4 222.3 L682.7 222.7 L682.1 223.3 L681.4 224.1 L680.7 225.4 L680.1 225.7 L679.4 226.6 L678.8 227.0 L678.1 227.7 L677.5 228.4 L676.8 229.9 L676.1 230.2 L675.5 231.5" stroke-width="7.10"/><path d="M675.5 231.5 L674.8 231.5 L674.1 232.7 L673.4 232.3 L672.7 233.4 L672.1 234.3 L671.4 234.8 L670.7 235.8 L670.0 236.1 L669.4 237.2 L668.7 237.8 L668.0 238.8 L667.3 239.5" stroke-width="7.10"/><path d="M667.3 239.5 L666.6 239.9 L665.9 240.9 L665.2 241.9 L664.5 242.1 L663.8 243.4 L663.1 244.8 L662.4 244.9 L661.8 245.9 L661.1 246.7 L660.5 246.7 L659.8 248.3 L659.2 249.8" stroke-width="7.10"/><path d="M659.2 249.8 L658.5 248.8 L657.9 250.9 L657.3 250.3 L656.6 252.0 L655.9 251.2 L655.3 253.2 L654.6 253.6 L654.0 253.5 L653.3 254.4 L652.7 255.0 L652.0 255.8 L651.3 257.1" stroke-width="7.10"/><path d="M651.3 257.1 L650.7 257.7 L650.0 257.2 L649.4 258.9 L648.7 260.1 L648.1 260.7 L647.4 262.2 L646.7 261.3 L646.1 262.8 L645.4 263.6 L644.8 264.6 L644.1 264.4 L643.5 265.0" stroke-width="7.10"/><path d="M643.5 265.0 L642.8 266.3 L642.1 267.2 L641.5 267.1 L640.8 268.8 L640.1 269.5 L639.4 270.7 L638.7 269.9 L638.0 272.0 L637.2 272.3 L636.6 273.2 L635.9 274.6 L635.3 275.9" stroke-width="7.10"/><path d="M635.3 275.9 L634.7 275.9 L634.1 276.3 L633.5 277.7 L632.9 277.4 L632.3 278.2 L631.6 279.0 L630.8 279.5 L630.1 281.0 L629.3 282.8 L628.6 282.9 L627.8 283.8 L627.1 284.3" stroke-width="7.10"/><path d="M627.1 284.3 L626.4 285.7 L625.6 286.1 L625.0 286.2 L624.4 287.3 L623.8 288.7 L622.9 289.0 L622.1 290.5 L621.4 290.7 L620.6 292.5 L619.9 292.6 L619.2 293.5 L618.5 293.8" stroke-width="7.10"/><path d="M618.5 293.8 L617.8 295.0 L617.2 295.4 L616.5 295.5 L615.7 297.2 L615.0 297.4 L614.2 299.6 L613.5 300.4 L612.9 300.7 L612.4 301.6 L611.9 300.7 L611.4 303.2 L610.9 303.1" stroke-width="7.10"/><path d="M610.9 303.1 L610.3 304.3 L609.8 306.0 L609.3 304.7 L608.8 305.7 L608.1 307.2 L607.3 308.2 L606.6 308.1 L605.9 309.3 L605.3 311.4 L604.6 311.4 L604.1 312.5 L603.5 312.4" stroke-width="7.10"/><path d="M603.5 312.4 L603.0 313.0 L602.5 313.2 L601.7 315.2 L601.0 316.5 L600.4 316.8 L599.8 317.1 L599.2 317.9 L598.6 318.6 L598.0 318.9 L597.3 319.9 L596.6 321.3 L596.0 322.2" stroke-width="7.10"/><path d="M596.0 322.2 L595.3 321.5 L594.6 321.5 L593.9 323.6 L593.2 323.9 L592.5 324.5 L591.7 324.7 L591.0 324.7 L590.2 325.7 L589.3 326.3 L588.5 326.8 L587.7 326.1 L586.8 327.4" stroke-width="7.10"/><path d="M586.8 327.4 L586.0 327.2 L585.1 327.5 L584.3 328.2 L583.4 328.2 L582.5 329.8 L581.6 329.4 L580.8 329.4 L579.9 329.4 L579.0 329.9 L578.2 330.0 L577.4 330.6 L576.6 331.1" stroke-width="7.10"/><path d="M576.6 331.1 L575.8 331.4 L575.0 330.6 L574.1 331.2 L573.1 331.7 L572.0 331.4 L570.8 332.4 L569.4 332.5 L568.0 332.9 L567.2 333.2 L566.5 332.9 L565.7 334.1 L564.9 334.1" stroke-width="7.10"/><path d="M564.9 334.1 L564.1 333.5 L563.3 334.0 L562.5 334.4 L561.7 333.9 L560.8 334.2 L560.0 334.9 L559.1 333.6 L558.3 334.2 L557.4 335.3 L556.5 335.9 L555.5 335.4 L554.6 336.4" stroke-width="7.10"/><path d="M554.6 336.4 L553.6 337.5 L552.7 336.9 L551.7 336.9 L550.8 337.2 L549.8 337.0 L548.8 337.9 L547.9 338.1 L546.9 338.7 L545.9 339.3 L545.0 338.9 L544.1 339.2 L543.1 339.5" stroke-width="7.10"/><path d="M543.1 339.5 L542.2 340.5 L541.3 339.3 L540.4 340.0 L539.5 340.1 L538.6 340.7 L537.7 341.4 L536.8 341.3 L535.8 341.8 L534.9 341.9 L534.0 341.6 L533.0 341.8 L532.0 341.7" stroke-width="7.10"/><path d="M532.0 341.7 L531.0 342.6 L530.0 342.6 L528.9 343.4 L527.9 343.7 L526.8 343.0 L525.6 342.9 L524.5 343.8 L523.3 343.3 L522.2 343.9 L521.0 344.3 L519.8 344.0 L518.7 345.1" stroke-width="7.10"/><path d="M518.7 345.1 L517.5 344.1 L516.4 344.6 L515.2 344.4 L514.1 343.2 L513.1 344.4 L512.0 344.7 L511.0 345.2 L510.1 344.9 L509.3 344.7 L508.4 344.8 L507.7 344.9 L506.9 345.5" stroke-width="7.10"/><path d="M506.9 345.5 L506.1 345.1 L505.4 345.9 L504.6 345.8 L503.7 345.1 L502.8 345.9 L501.9 344.4 L500.8 345.3 L499.7 345.0 L498.8 345.4 L497.9 346.1 L497.0 345.7 L495.9 345.6" stroke-width="7.10"/><path d="M495.9 345.6 L494.9 346.3 L493.8 345.4 L492.9 345.3 L492.0 346.2 L491.2 346.2 L490.3 345.2 L489.3 345.9 L488.3 346.3 L487.3 345.9 L486.4 345.8 L485.3 346.0 L484.3 346.1" stroke-width="7.10"/><path d="M484.3 346.1 L483.3 345.7 L482.2 346.5 L481.2 345.4 L480.1 346.0 L479.0 347.2 L478.0 345.9 L476.9 346.2 L475.8 345.1 L474.7 345.7 L473.6 345.7 L472.5 346.3 L471.4 346.2" stroke-width="7.10"/><path d="M471.4 346.2 L470.3 347.3 L469.3 346.2 L468.2 346.5 L467.1 346.6 L466.1 346.9 L465.0 347.1 L463.9 345.9 L462.8 347.7 L461.7 346.7 L460.6 346.4 L459.7 345.9 L458.7 346.4" stroke-width="7.10"/><path d="M458.7 346.4 L457.8 345.9 L456.8 346.8 L455.9 346.5 L454.9 347.0 L453.9 346.5 L452.9 346.9 L452.0 348.1 L451.0 347.7 L450.0 347.2 L449.0 346.6 L448.1 347.7 L447.1 346.3" stroke-width="7.10"/><path d="M447.1 346.3 L446.1 346.3 L445.2 347.7 L444.2 346.9 L443.3 347.8 L442.4 347.6 L441.4 348.4 L440.3 348.3 L439.2 347.7 L438.2 347.0 L437.1 347.6 L436.1 348.1 L435.1 347.6" stroke-width="7.10"/><path d="M435.1 347.6 L434.2 346.0 L433.2 347.0 L432.1 347.2 L431.1 347.4 L430.0 347.3 L428.8 348.1 L427.6 347.0 L426.8 347.7 L426.0 346.6 L424.9 346.4 L424.1 346.9 L423.4 347.2" stroke-width="7.10"/><path d="M423.4 347.2 L422.6 347.2 L421.6 347.3 L420.8 348.0 L420.0 348.1 L419.0 347.9 L418.0 348.0 L417.0 347.6 L415.9 347.5 L414.8 347.3 L413.7 347.8 L412.5 347.6 L411.2 348.0" stroke-width="7.10"/><path d="M411.2 348.0 L410.4 348.7 L409.5 348.7 L408.7 349.1 L407.8 348.1 L406.8 347.4 L405.9 347.9 L405.0 349.6 L404.0 349.2 L403.0 348.6 L402.0 349.5 L401.0 348.8 L400.0 349.8" stroke-width="7.10"/><path d="M400.0 349.8 L398.9 349.0 L397.8 348.9 L396.7 349.5 L395.8 348.8 L395.0 349.2 L394.1 350.4 L393.2 349.8 L392.3 349.0 L391.3 349.4 L390.4 349.6 L389.5 349.3 L388.5 349.9" stroke-width="7.10"/><path d="M388.5 349.9 L387.6 350.5 L386.6 350.0 L385.6 350.5 L384.6 350.3 L383.7 350.2 L382.7 349.9 L381.7 350.7 L380.7 351.1 L379.7 350.3 L378.7 350.1 L377.7 350.8 L376.8 350.8" stroke-width="7.10"/><path d="M376.8 350.8 L375.8 351.3 L374.8 351.2 L373.8 350.9 L372.9 350.3 L371.9 351.3 L371.0 351.3 L370.0 350.7 L369.0 350.6 L368.1 350.4 L367.1 351.7 L366.2 351.5 L365.2 350.1" stroke-width="7.10"/><path d="M365.2 350.1 L364.2 351.2 L363.2 351.6 L362.3 352.0 L361.3 352.2 L360.3 352.1 L359.3 352.7 L358.3 353.0 L357.3 352.6 L356.3 353.5 L355.4 352.9 L354.4 352.5 L353.4 353.0" stroke-width="7.10"/><path d="M353.4 353.0 L352.4 352.4 L351.5 353.0 L350.5 352.8 L349.6 353.2 L348.7 353.7 L347.7 352.5 L346.8 353.9 L345.9 354.1 L345.0 354.1 L344.2 354.6 L343.3 354.6 L342.2 354.5" stroke-width="7.10"/><path d="M342.2 354.5 L341.1 354.3 L340.0 355.3 L339.0 355.6 L338.0 354.8 L336.9 355.2 L336.0 355.2 L335.0 356.4 L334.0 356.1 L333.1 355.9 L332.2 357.5 L331.2 357.4 L330.4 357.5" stroke-width="7.10"/><path d="M330.4 357.5 L329.5 357.8 L328.6 357.8 L327.8 358.2 L327.0 358.9 L326.2 359.0 L325.1 358.9 L323.9 359.5 L322.9 360.8 L321.9 360.1 L320.9 360.0 L320.0 361.0 L319.2 360.7" stroke-width="7.10"/><path d="M319.2 360.7 L318.5 362.9 L317.4 362.7 L316.6 363.0 L315.9 363.4 L315.2 364.8 L314.4 364.0 L313.4 365.1 L312.7 364.8 L312.0 366.7 L311.1 366.8 L310.2 368.3 L309.2 368.1" stroke-width="7.10"/><path d="M309.2 368.1 L308.2 368.3 L307.4 368.8 L306.7 370.1 L305.9 369.9 L305.1 370.9 L304.3 371.0 L303.5 371.5 L302.7 372.1 L301.9 373.8 L301.1 373.2 L300.2 374.3 L299.4 375.2" stroke-width="7.10"/><path d="M299.4 375.2 L298.6 375.0 L297.8 375.1 L297.0 377.1 L296.1 378.0 L295.4 377.7 L294.6 377.6 L293.8 379.1 L293.0 379.4 L292.3 379.5 L291.5 380.3 L290.8 379.9 L290.0 381.1" stroke-width="7.10"/><path d="M290.0 381.1 L289.2 381.6 L288.5 382.2 L287.7 383.7 L287.0 384.3 L286.2 385.7 L285.5 384.2 L284.7 385.5 L283.9 386.2 L283.2 387.9 L282.4 388.5 L281.7 388.7 L280.9 389.3" stroke-width="7.10"/><path d="M280.9 389.3 L280.2 389.5 L279.4 390.1 L278.6 390.8 L277.9 390.4 L277.1 393.1 L276.4 393.5 L275.6 394.7 L274.8 395.0 L274.1 395.2 L273.3 395.9 L272.5 395.3 L271.8 396.1" stroke-width="7.10"/><path d="M271.8 396.1 L271.0 397.7 L270.2 397.9 L269.4 397.8 L268.7 399.1 L267.9 399.2 L267.1 400.5 L266.4 402.0 L265.6 401.4 L264.8 402.2 L264.1 403.3 L263.3 403.7 L262.5 404.4" stroke-width="7.10"/><path d="M262.5 404.4 L261.8 404.5 L261.0 405.3 L260.3 404.9 L259.6 406.5 L258.8 408.0 L258.1 407.5 L257.4 408.4 L256.7 409.5 L256.0 410.4 L255.3 411.0 L254.6 410.5 L253.9 411.2" stroke-width="7.10"/><path d="M253.9 411.2 L253.2 412.9 L252.5 412.5 L251.9 413.2 L251.2 413.3 L250.5 413.8 L249.8 413.2 L249.2 414.8 L248.5 414.7 L247.9 415.7 L247.2 416.3 L246.6 418.0 L245.9 418.5" stroke-width="7.10"/><path d="M245.9 418.5 L245.3 418.8 L244.3 419.1 L243.4 419.4 L242.4 421.1 L241.5 421.4 L240.6 422.5 L239.7 423.9 L238.8 424.2 L237.9 425.0 L237.1 425.4 L236.2 427.1 L235.4 427.8" stroke-width="7.10"/><path d="M235.4 427.8 L234.5 428.7 L233.7 430.0 L232.8 429.2 L232.0 430.7 L231.2 431.9 L230.3 432.6 L229.5 433.5 L228.6 434.4 L227.8 434.2 L226.9 435.7 L226.1 437.3 L225.2 437.7" stroke-width="7.10"/><path d="M225.2 437.7 L224.4 438.5 L223.5 439.9 L222.7 439.6 L222.1 441.1 L221.6 442.4 L221.0 442.2 L220.4 442.4 L219.9 443.7 L219.3 443.9 L218.7 444.3 L218.2 445.4 L217.6 445.1" stroke-width="7.10"/><path d="M217.6 445.1 L217.0 446.8 L216.5 446.6 L215.9 447.5 L215.3 448.8 L214.8 449.1 L214.2 449.8 L213.6 451.0 L213.0 451.8 L212.5 452.7 L211.9 452.1 L211.3 453.3 L210.7 452.7" stroke-width="7.10"/><path d="M210.7 452.7 L210.1 454.4 L209.5 455.5 L208.9 455.1 L208.3 456.2 L207.7 457.1 L207.1 457.3 L206.5 457.6 L206.0 459.3 L205.4 458.7 L204.8 459.8 L204.2 460.9 L203.7 461.3" stroke-width="7.10"/><path d="M203.7 461.3 L202.9 462.8 L202.0 463.7 L201.3 464.0 L200.5 465.4 L199.8 465.8 L199.0 465.5 L198.3 466.6 L197.6 467.7 L196.8 468.5 L196.1 468.3 L195.5 470.9 L194.8 470.0" stroke-width="7.10"/><path d="M194.8 470.0 L194.2 470.6 L193.5 472.1 L192.9 472.7 L192.4 474.0 L191.4 474.5 L190.5 475.4 L189.8 476.3 L189.3 476.1 L188.8 476.1 L188.6 476.7 L188.4 477.6 L188.2 477.2" stroke-width="7.10"/><path d="M188.2 477.2 L188.2 478.1 L188.2 477.4 L188.2 478.1 L188.3 478.0 L188.4 478.6 L188.6 478.4 L188.9 478.5 L189.4 478.2 L190.1 479.0 L191.0 478.3 L192.2 478.2 L192.9 478.1" stroke-width="7.10"/><path d="M192.9 478.1 L193.7 477.1 L194.5 476.8 L195.3 476.9 L196.3 477.4 L197.2 476.0 L198.1 475.6 L199.1 475.3 L200.1 475.3 L201.1 474.7 L202.1 474.4 L203.1 474.8 L204.0 473.8" stroke-width="7.10"/><path d="M204.0 473.8 L205.0 473.9 L205.9 473.1 L206.9 473.2 L207.8 473.3 L208.8 471.7 L209.8 472.2 L210.8 472.1 L211.7 471.7 L212.7 471.5 L213.7 471.2 L214.8 470.0 L215.8 470.1" stroke-width="7.10"/><path d="M215.8 470.1 L216.8 470.1 L217.8 470.1 L218.9 468.4 L219.9 468.2 L221.0 467.4 L222.1 467.6 L223.2 466.7 L224.3 466.3 L225.4 466.7 L226.5 467.1 L227.7 464.5 L228.4 465.8" stroke-width="7.10"/><path d="M228.4 465.8 L229.2 464.4 L230.0 464.7 L230.7 464.3 L231.5 464.4 L232.3 463.4 L233.1 462.6 L233.8 462.6 L234.6 462.7 L235.4 461.6 L236.1 461.8 L236.9 461.3 L237.7 461.0" stroke-width="7.10"/><path d="M237.7 461.0 L238.4 460.6 L239.2 460.5 L240.0 460.3 L240.7 459.4 L241.5 458.9 L242.2 457.6 L243.0 457.8 L243.8 457.1 L244.5 457.8 L245.3 456.7 L246.0 456.4 L246.8 456.7" stroke-width="7.10"/><path d="M246.8 456.7 L247.5 456.6 L248.3 456.4 L249.1 455.0 L249.8 455.0 L250.6 455.1 L251.3 453.8 L252.1 453.6 L252.8 452.7 L253.6 452.6 L254.4 452.9 L255.1 452.3 L255.9 451.6" stroke-width="7.10"/><path d="M255.9 451.6 L256.6 451.1 L257.4 451.7 L258.2 451.1 L258.9 449.6 L259.7 450.8 L260.4 449.3 L261.2 448.8 L261.9 448.3 L262.7 447.8 L263.5 447.9 L264.2 446.6 L265.0 446.7" stroke-width="7.10"/><path d="M265.0 446.7 L265.7 446.2 L266.5 446.8 L267.3 445.9 L268.0 445.4 L268.8 445.0 L269.5 444.6 L270.3 443.9 L271.1 442.2 L271.8 443.0 L272.6 442.4 L273.3 442.4 L274.1 441.9" stroke-width="7.10"/><path d="M274.1 441.9 L274.8 441.0 L275.6 440.3 L276.4 439.8 L277.1 440.0 L277.9 439.5 L278.6 438.6 L279.4 438.4 L280.2 438.4 L280.9 437.5 L281.7 437.3 L282.4 436.6 L283.2 435.2" stroke-width="7.10"/><path d="M283.2 435.2 L283.9 435.9 L284.7 435.7 L285.5 435.6 L286.2 435.5 L287.0 434.1 L287.7 434.2 L288.5 433.7 L289.3 433.1 L290.0 433.1 L290.8 432.7 L291.5 431.2 L292.3 432.0" stroke-width="7.10"/><path d="M292.3 432.0 L293.0 430.9 L293.8 430.1 L294.5 429.5 L295.3 429.3 L296.0 428.5 L297.1 428.9 L298.1 428.0 L299.2 426.7 L300.2 426.8 L301.2 426.0 L302.3 425.2 L303.0 425.2" stroke-width="7.10"/><path d="M303.0 425.2 L303.7 424.2 L304.5 423.6 L305.2 423.5 L306.0 421.9 L306.8 421.5 L307.6 421.9 L308.4 421.8 L309.3 419.9 L310.2 420.0 L311.1 419.2 L312.0 418.8 L312.8 418.8" stroke-width="7.10"/><path d="M312.8 418.8 L313.5 418.9 L314.3 418.6 L315.0 417.8 L315.8 417.0 L316.6 416.3 L317.4 414.7 L318.3 415.2 L319.1 414.0 L320.0 413.4 L320.8 413.5 L321.7 412.2 L322.6 413.2" stroke-width="7.10"/><path d="M322.6 413.2 L323.5 412.3 L324.4 411.6 L325.2 411.1 L326.2 410.4 L327.1 409.8 L328.0 409.5 L328.9 408.3 L329.8 408.1 L330.8 407.5 L331.7 407.3 L332.6 405.8 L333.5 405.8" stroke-width="7.10"/><path d="M333.5 405.8 L334.5 405.1 L335.4 404.9 L336.3 404.3 L337.2 403.6 L338.2 403.2 L339.1 402.6 L340.0 402.5 L340.9 401.5 L341.9 401.0 L342.8 399.6 L343.8 399.3 L344.6 399.4" stroke-width="7.10"/><path d="M344.6 399.4 L345.4 399.1 L346.2 397.6 L347.0 397.5 L347.8 396.9 L348.6 396.6 L349.4 395.8 L350.2 395.3 L351.1 395.0 L351.9 394.6 L352.7 394.6 L353.5 393.2 L354.3 392.5" stroke-width="7.10"/><path d="M354.3 392.5 L355.2 392.9 L356.0 392.4 L356.8 391.6 L357.6 390.5 L358.4 391.1 L359.2 389.7 L360.0 390.2 L360.9 389.3 L361.9 388.5 L362.8 387.9 L363.8 387.8 L364.6 387.0" stroke-width="7.10"/><path d="M364.6 387.0 L365.5 385.5 L366.4 385.4 L367.2 384.2 L368.0 384.9 L368.8 384.9 L369.5 384.6 L370.3 383.0 L371.2 384.1 L372.0 383.7 L372.9 382.3 L374.0 380.6 L375.0 380.4" stroke-width="7.10"/><path d="M375.0 380.4 L376.0 380.9 L376.9 381.1 L377.7 379.5 L378.6 378.3 L379.3 378.2 L380.1 379.3 L380.9 378.3 L381.6 377.1 L382.4 376.3 L383.2 377.2 L384.1 377.0 L385.0 376.0" stroke-width="7.10"/><path d="M385.0 376.0 L385.9 375.6 L386.9 375.3 L387.8 374.7 L388.7 374.2 L389.7 373.7 L390.6 373.3 L391.6 373.8 L392.5 373.1 L393.5 372.9 L394.4 373.0 L395.4 370.5 L396.4 370.9" stroke-width="7.10"/><path d="M396.4 370.9 L397.5 371.0 L398.5 370.0 L399.6 369.2 L400.7 369.1 L401.5 368.4 L402.2 367.7 L403.0 367.6 L403.8 367.3 L404.6 366.9 L405.5 366.9 L406.3 366.1 L407.1 365.3" stroke-width="7.10"/><path d="M407.1 365.3 L408.0 366.6 L408.9 364.7 L409.7 364.0 L410.6 363.5 L411.5 362.8 L412.3 361.8 L413.2 362.1 L414.1 362.4 L415.0 360.4 L415.8 360.2 L416.7 360.4 L417.5 359.5" stroke-width="7.10"/><path d="M417.5 359.5 L418.4 359.6 L419.2 359.0 L420.1 358.0 L420.9 358.0 L421.7 357.5 L422.6 357.7 L423.4 355.8 L424.3 356.7 L425.1 357.0 L426.0 356.2 L426.8 355.8 L427.7 355.0" stroke-width="7.10"/><path d="M427.7 355.0 L428.5 355.1 L429.4 354.6 L430.2 353.6 L431.1 353.3 L431.9 352.4 L432.7 353.4 L433.6 353.1 L434.7 353.2 L435.9 352.4 L437.0 352.2 L438.1 350.8 L439.0 350.1" stroke-width="7.10"/><path d="M439.0 350.1 L440.0 350.4 L440.8 350.3 L441.7 350.4 L443.0 349.8 L444.2 349.4 L445.3 349.3 L446.3 349.2 L447.4 349.0 L448.6 348.9 L450.0 348.3 L450.9 348.3 L451.7 347.5" stroke-width="7.10"/><path d="M451.7 347.5 L452.7 347.5 L453.8 347.8 L454.8 348.1 L455.9 347.5 L457.0 346.9 L458.1 348.0 L459.2 347.1 L460.3 346.5 L461.2 346.7 L462.2 346.6 L463.0 345.9 L463.8 346.7" stroke-width="7.10"/><path d="M463.8 346.7 L465.0 347.0" stroke-width="7.10"/></g>
<g fill="none" stroke="#00dc00" stroke-linejoin="round" stroke-linecap="round"><path d="M886.2 10.8 L886.4 9.6 L887.1 8.6 L888.0 8.5 L888.8 7.3 L888.9 7.0 L888.1 8.6 L887.4 8.2 L886.6 9.4 L885.9 10.6 L885.2 11.2 L884.6 11.2 L883.9 11.9" stroke-width="7.40"/><path d="M883.9 11.9 L883.2 14.0 L882.6 14.0 L881.9 14.5 L881.2 15.8 L880.6 15.2 L879.9 16.6 L879.3 16.5 L878.6 18.7 L877.9 18.4 L877.3 19.5 L876.6 19.8 L876.0 21.0" stroke-width="7.40"/><path d="M876.0 21.0 L875.3 21.9 L874.6 22.5 L873.9 23.0 L873.2 24.0 L872.5 24.5 L871.8 25.1 L871.1 26.4 L870.4 27.3 L869.8 27.0 L869.1 27.8 L868.4 28.6 L867.7 29.9" stroke-width="7.40"/><path d="M867.7 29.9 L867.0 29.9 L866.3 32.0 L865.6 32.2 L864.9 32.9 L864.3 33.9 L863.6 33.9 L862.9 35.1 L862.2 35.9 L861.5 37.1 L860.8 36.8 L860.1 38.5 L859.5 39.0" stroke-width="7.40"/><path d="M859.5 39.0 L858.8 39.5 L858.1 40.6 L857.5 40.7 L856.8 41.4 L856.2 42.6 L855.5 42.8 L854.8 44.1 L854.2 45.1 L853.5 45.3 L852.8 45.9 L852.2 46.1 L851.5 46.7" stroke-width="7.40"/><path d="M851.5 46.7 L850.9 48.5 L850.2 48.2 L849.5 49.3 L848.9 50.1 L848.2 50.3 L847.5 51.0 L846.9 51.7 L846.2 53.8 L845.5 53.9 L844.9 55.0 L844.2 56.1 L843.6 56.4" stroke-width="7.40"/><path d="M843.6 56.4 L842.9 57.2 L842.2 57.0 L841.6 57.5 L840.9 59.2 L840.2 60.1 L839.6 59.6 L838.9 61.2 L838.2 61.6 L837.5 62.6 L836.8 63.4 L836.2 64.7 L835.5 64.2" stroke-width="7.40"/><path d="M835.5 64.2 L834.8 65.1 L834.1 66.5 L833.4 66.5 L832.7 67.6 L832.0 68.0 L831.3 67.9 L830.6 69.1 L830.0 70.6 L829.3 70.8 L828.6 70.9 L827.9 72.1 L827.2 73.2" stroke-width="7.40"/><path d="M827.2 73.2 L826.5 74.2 L825.8 74.9 L825.1 75.7 L824.4 75.7 L823.7 76.5 L823.1 77.2 L822.4 78.1 L821.7 79.3 L821.0 80.6 L820.3 80.6 L819.6 81.9 L818.9 82.7" stroke-width="7.40"/><path d="M818.9 82.7 L818.2 82.4 L817.5 83.1 L816.8 84.3 L816.1 84.4 L815.5 86.6 L814.8 85.7 L814.1 86.5 L813.4 88.2 L812.8 88.3 L812.1 89.7 L811.4 89.7 L810.7 91.3" stroke-width="7.40"/><path d="M810.7 91.3 L810.1 91.3 L809.4 92.6 L808.7 93.6 L808.0 93.1 L807.4 93.9 L806.7 94.2 L806.0 95.2 L805.3 97.0 L804.6 97.4 L803.9 98.6 L803.2 99.7 L802.5 100.3" stroke-width="7.40"/><path d="M802.5 100.3 L801.8 100.8 L801.1 101.0 L800.4 101.6 L799.7 102.7 L799.1 103.8 L798.4 104.7 L797.7 105.1 L797.0 105.5 L796.3 106.3 L795.6 107.9 L794.9 108.1 L794.2 109.6" stroke-width="7.40"/><path d="M794.2 109.6 L793.5 109.1 L792.8 110.4 L792.1 111.0 L791.4 111.9 L790.7 112.0 L790.0 113.2 L789.3 113.8 L788.6 114.4 L787.9 114.7 L787.2 115.2 L786.5 116.5 L785.8 117.8" stroke-width="7.40"/><path d="M785.8 117.8 L785.1 118.4 L784.4 119.2 L783.6 120.0 L782.9 119.9 L782.3 121.7 L781.6 122.1 L780.9 122.4 L780.2 123.2 L779.5 124.7 L778.8 125.1 L778.1 124.9 L777.4 127.4" stroke-width="7.40"/><path d="M777.4 127.4 L776.7 126.6 L776.0 128.7 L775.3 129.2 L774.7 129.0 L774.0 130.7 L773.3 131.6 L772.6 132.2 L771.9 132.7 L771.2 133.3 L770.5 133.9 L769.8 134.3 L769.1 135.4" stroke-width="7.40"/><path d="M769.1 135.4 L768.4 136.7 L767.7 136.8 L767.0 138.5 L766.3 137.6 L765.6 138.9 L764.9 139.0 L764.2 139.5 L763.5 141.2 L762.8 141.8 L762.1 142.4 L761.4 142.9 L760.7 144.0" stroke-width="7.40"/><path d="M760.7 144.0 L760.0 144.2 L759.3 145.5 L758.6 146.2 L757.9 146.6 L757.2 148.1 L756.5 147.8 L755.8 149.5 L755.1 150.3 L754.5 151.2 L753.8 151.8 L753.1 152.8 L752.4 153.1" stroke-width="7.40"/><path d="M752.4 153.1 L751.7 153.3 L751.0 154.7 L750.3 155.0 L749.6 155.8 L748.9 156.8 L748.2 157.1 L747.5 158.7 L746.9 158.3 L746.2 160.3 L745.5 160.6 L744.8 162.1 L744.1 162.7" stroke-width="7.40"/><path d="M744.1 162.7 L743.4 163.2 L742.7 163.7 L742.0 164.3 L741.3 164.3 L740.6 165.4 L739.8 166.0 L739.1 166.8 L738.4 167.9 L737.7 168.3 L737.0 169.5 L736.3 170.1 L735.6 170.8" stroke-width="7.40"/><path d="M735.6 170.8 L734.9 171.9 L734.2 172.8 L733.5 172.6 L732.8 173.8 L732.1 176.2 L731.4 175.7 L730.7 176.5 L730.0 176.6 L729.3 178.2 L728.7 179.3 L728.0 179.6 L727.3 180.0" stroke-width="7.40"/><path d="M727.3 180.0 L726.6 180.7 L725.9 180.5 L725.2 182.4 L724.5 182.8 L723.8 183.9 L723.1 184.7 L722.4 185.3 L721.7 187.0 L721.1 187.2 L720.4 187.1 L719.7 188.3 L719.1 189.1" stroke-width="7.40"/><path d="M719.1 189.1 L718.4 189.6 L717.7 190.9 L717.1 190.8 L716.4 190.7 L715.7 191.7 L715.1 193.2 L714.4 193.3 L713.7 194.5 L713.1 194.5 L712.4 196.0 L711.7 196.6 L711.0 196.9" stroke-width="7.40"/><path d="M711.0 196.9 L710.3 197.8 L709.6 198.7 L709.0 200.1 L708.3 200.6 L707.6 201.1 L706.9 201.9 L706.2 203.1 L705.5 203.7 L704.8 205.0 L704.1 204.6 L703.4 206.0 L702.8 206.5" stroke-width="7.41"/><path d="M702.8 206.5 L702.1 206.8 L701.4 208.1 L700.7 209.0 L700.0 209.9 L699.3 210.4 L698.6 210.4 L697.9 211.6 L697.2 212.5 L696.5 213.9 L695.8 214.0 L695.2 214.7 L694.5 216.1" stroke-width="7.42"/><path d="M694.5 216.1 L693.8 216.2 L693.1 216.6 L692.4 217.7 L691.7 218.8 L691.0 219.3 L690.3 219.1 L689.6 220.3 L688.9 221.8 L688.2 221.9 L687.5 223.3 L686.8 223.8 L686.1 224.1" stroke-width="7.43"/><path d="M686.1 224.1 L685.4 225.6 L684.7 225.0 L684.0 225.6 L683.2 226.6 L682.5 228.4 L681.8 229.0 L681.1 230.2 L680.4 230.6 L679.8 231.4 L679.1 231.8 L678.5 232.6 L677.8 234.0" stroke-width="7.45"/><path d="M677.8 234.0 L677.2 234.7 L676.5 234.3 L675.8 235.9 L675.2 237.4 L674.5 237.6 L673.9 237.4 L673.2 238.9 L672.5 239.4 L671.9 239.9 L671.2 241.2 L670.5 242.2 L669.9 242.1" stroke-width="7.46"/><path d="M669.9 242.1 L669.2 243.0 L668.5 243.5 L667.8 244.4 L667.2 246.0 L666.5 245.9 L665.8 247.0 L665.1 247.7 L664.4 248.4 L663.7 248.5 L663.0 250.1 L662.3 250.1 L661.6 251.6" stroke-width="7.48"/><path d="M661.6 251.6 L661.0 252.0 L660.3 252.8 L659.7 253.2 L659.0 253.7 L658.4 254.3 L657.7 255.5 L657.1 256.3 L656.4 257.2 L655.8 257.7 L655.1 258.9 L654.5 259.4 L653.8 260.1" stroke-width="7.49"/><path d="M653.8 260.1 L653.2 260.6 L652.5 261.4 L651.8 262.5 L651.2 262.6 L650.5 263.0 L649.9 264.5 L649.2 265.3 L648.6 265.9 L647.9 266.8 L647.2 266.8 L646.6 267.6 L645.9 268.8" stroke-width="7.48"/><path d="M645.9 268.8 L645.2 269.7 L644.5 269.9 L643.8 271.5 L643.0 271.3 L642.3 273.5 L641.6 273.3 L641.0 274.2 L640.4 274.7 L639.7 275.3 L639.1 276.5 L638.5 276.4 L637.9 277.8" stroke-width="7.45"/><path d="M637.9 277.8 L637.3 278.8 L636.6 279.5 L635.8 280.5 L635.1 280.7 L634.3 281.3 L633.6 282.3 L632.8 284.4 L632.1 285.1 L631.4 284.8 L630.6 287.2 L630.0 287.6 L629.4 288.5" stroke-width="7.41"/><path d="M629.4 288.5 L628.8 289.2 L627.9 290.2 L627.1 289.7 L626.4 291.2 L625.6 291.7 L624.9 293.8 L624.2 294.1 L623.5 294.5 L622.8 295.1 L622.1 294.9 L621.5 296.7 L620.7 297.2" stroke-width="7.40"/><path d="M620.7 297.2 L620.0 299.1 L619.2 299.9 L618.5 300.4 L617.7 301.2 L616.9 302.8 L616.4 302.8 L615.9 304.2 L615.3 304.5 L614.6 305.2 L613.8 306.4 L613.1 308.1 L612.3 307.5" stroke-width="7.37"/><path d="M612.3 307.5 L611.6 309.3 L610.9 310.4 L610.3 310.7 L609.6 312.3 L609.1 312.7 L608.5 313.4 L608.0 313.2 L607.5 314.4 L606.7 314.6 L606.0 316.2 L605.4 317.9 L604.8 317.2" stroke-width="7.31"/><path d="M604.8 317.2 L604.2 318.9 L603.6 318.4 L603.0 319.5 L602.3 320.6 L601.6 320.4 L601.0 321.9 L600.3 322.2 L599.6 322.9 L598.9 324.3 L598.2 324.7 L597.5 325.5 L596.7 326.0" stroke-width="7.30"/><path d="M596.7 326.0 L596.0 326.8 L595.1 328.0 L594.3 327.9 L593.5 328.2 L592.7 328.8 L591.8 329.7 L591.0 330.1 L590.2 329.3 L589.5 330.5 L588.7 331.3 L588.0 332.8 L587.2 331.7" stroke-width="7.30"/><path d="M587.2 331.7 L586.4 332.0 L585.4 332.0 L584.3 332.9 L583.0 332.6 L582.3 333.2 L581.6 333.9 L580.8 333.5 L580.1 334.3 L579.3 334.4 L578.5 335.6 L577.7 336.2 L576.8 336.7" stroke-width="7.30"/><path d="M576.8 336.7 L576.0 336.1 L575.2 336.4 L574.4 337.5 L573.6 336.4 L572.8 337.6 L572.0 336.7 L571.3 337.7 L570.5 336.7 L569.8 337.3 L569.0 337.7 L567.6 338.1 L566.2 337.6" stroke-width="7.30"/><path d="M566.2 337.6 L565.4 338.7 L564.7 338.8 L564.0 339.8 L563.2 339.7 L562.4 338.5 L561.6 339.6 L560.8 340.4 L560.0 340.0 L559.1 339.9 L558.3 339.7 L557.4 340.3 L556.5 340.2" stroke-width="7.30"/><path d="M556.5 340.2 L555.5 340.7 L554.6 340.9 L553.6 341.9 L552.7 341.1 L551.7 341.8 L550.8 341.3 L549.8 342.1 L548.8 342.7 L547.9 342.1 L546.9 341.9 L545.9 342.6 L545.0 342.8" stroke-width="7.24"/><path d="M545.0 342.8 L544.1 342.6 L543.2 343.3 L542.4 343.3 L541.6 343.7 L540.8 342.9 L540.0 343.9 L539.2 344.5 L538.4 343.6 L537.6 345.0 L536.7 344.4 L535.8 343.7 L534.8 343.8" stroke-width="7.16"/><path d="M534.8 343.8 L533.7 344.0 L532.6 344.2 L531.7 344.5 L530.9 344.9 L530.0 344.7 L529.0 344.7 L527.9 344.4 L526.9 343.9 L526.0 344.5 L525.1 344.4 L524.2 345.5 L523.3 344.0" stroke-width="7.10"/><path d="M523.3 344.0 L522.3 345.6 L521.4 343.9 L520.4 345.0 L519.4 345.3 L518.4 344.8 L517.4 344.9 L516.3 345.8 L515.3 345.0 L514.3 345.4 L513.2 345.6 L512.2 346.0 L511.2 345.1" stroke-width="7.06"/><path d="M511.2 345.1 L510.2 346.3 L509.2 345.7 L508.2 346.3 L507.1 345.2 L506.2 346.3 L505.3 345.9 L504.3 346.3 L503.4 345.7 L502.2 346.3 L501.1 346.1 L500.0 345.1 L499.1 347.1" stroke-width="7.02"/><path d="M499.1 347.1 L498.2 345.9 L497.2 346.3 L496.1 346.1 L495.0 345.9 L494.0 346.0 L493.1 346.6 L492.2 346.7 L491.2 346.8 L490.3 345.5 L489.3 346.5 L488.1 345.5 L486.9 347.3" stroke-width="7.00"/><path d="M486.9 347.3 L485.9 346.6 L484.9 346.9 L483.9 346.4 L482.9 346.4 L481.9 346.0 L481.0 347.2 L480.0 346.3 L479.0 346.9 L478.1 346.0 L477.1 346.2 L476.1 346.1 L475.2 346.3" stroke-width="7.00"/><path d="M475.2 346.3 L474.2 346.1 L473.3 346.7 L472.3 346.8 L471.4 345.7 L470.4 346.1 L469.5 345.7 L468.4 346.9 L467.4 345.9 L466.4 346.6 L465.3 346.6 L464.3 346.5 L463.2 345.5" stroke-width="7.00"/><path d="M463.2 345.5 L462.3 347.2 L461.3 346.5 L460.4 346.9 L459.4 347.1 L458.5 346.1 L457.5 346.0 L456.6 347.3 L455.6 347.6 L454.6 346.3 L453.6 346.5 L452.6 347.0 L451.7 346.6" stroke-width="7.00"/><path d="M451.7 346.6 L450.7 347.2 L449.7 347.0 L448.7 346.6 L447.7 347.0 L446.8 346.4 L445.8 347.2 L444.8 346.4 L443.8 347.3 L442.9 348.0 L441.9 346.0 L441.0 347.4 L440.0 346.0" stroke-width="7.00"/><path d="M440.0 346.0 L439.1 346.5 L438.1 347.6 L437.2 347.4 L436.2 347.1 L435.2 346.9 L434.1 346.8 L433.1 347.0 L432.1 346.6 L431.0 346.6 L430.0 346.1 L429.0 347.5 L428.0 346.8" stroke-width="7.00"/><path d="M428.0 346.8 L427.1 347.7 L426.1 347.2 L425.1 347.0 L424.1 346.2 L423.2 346.5 L422.2 346.7 L421.3 346.7 L420.3 346.6 L419.4 345.6 L418.4 346.4 L417.5 346.5 L416.5 346.5" stroke-width="7.00"/><path d="M416.5 346.5 L415.6 346.5 L414.6 345.9 L413.7 346.2 L412.8 347.4 L411.8 346.3 L410.9 346.4 L410.0 346.2 L409.0 346.6 L408.1 346.4 L407.2 347.7 L406.3 346.3 L405.3 347.3" stroke-width="7.00"/><path d="M405.3 347.3 L404.4 346.5 L403.5 346.9 L402.6 348.0 L401.7 346.9 L400.7 346.7 L399.8 345.2 L398.9 346.3 L398.0 346.5 L397.1 346.7 L396.1 346.8 L395.2 346.1 L394.3 346.1" stroke-width="7.00"/><path d="M394.3 346.1 L393.4 346.9 L392.4 346.6 L391.5 346.6 L390.6 347.0 L389.7 346.7 L388.7 346.7 L387.8 346.1 L386.9 346.5 L385.9 345.8 L385.0 347.4 L384.0 346.4 L383.1 347.4" stroke-width="7.00"/><path d="M383.1 347.4 L382.1 346.5 L381.1 346.5 L380.1 347.3 L379.2 346.8 L378.1 346.7 L377.1 346.5 L376.1 346.5 L375.1 346.2 L374.1 346.2 L373.0 345.7 L372.0 346.4 L371.0 346.2" stroke-width="7.00"/><path d="M371.0 346.2 L369.9 347.3 L368.9 347.8 L367.8 347.7 L366.8 346.2 L365.8 346.4 L364.7 346.5 L363.7 345.8 L362.7 347.3 L361.7 347.1 L360.6 346.8 L359.6 347.6 L358.6 347.0" stroke-width="7.00"/><path d="M358.6 347.0 L357.7 346.5 L356.7 346.7 L355.7 346.4 L354.7 346.8 L353.8 346.0 L352.8 346.8 L351.9 346.5 L351.0 346.4 L350.1 346.4 L349.1 346.5 L348.2 345.7 L347.2 346.8" stroke-width="7.00"/><path d="M347.2 346.8 L346.2 346.5 L345.2 347.5 L344.2 346.7 L343.1 347.1 L342.1 346.7 L341.0 346.6 L340.0 346.0 L338.9 346.3 L337.8 346.3 L336.7 345.4 L335.9 346.3 L335.0 346.2" stroke-width="7.00"/><path d="M335.0 346.2 L334.2 346.8 L333.2 347.2 L332.3 346.6 L331.5 347.3 L330.8 347.4 L329.5 347.2 L328.2 346.7 L326.8 346.8 L325.9 347.6 L325.0 347.7 L324.0 347.6 L322.9 346.1" stroke-width="6.99"/><path d="M322.9 346.1 L321.9 345.6 L320.8 347.6 L319.7 347.3 L318.7 347.6 L317.6 347.3 L316.4 346.8 L315.3 347.1 L314.2 346.9 L313.1 347.7 L312.0 347.5 L310.9 346.6 L309.7 346.7" stroke-width="6.55"/><path d="M309.7 346.7 L308.6 347.7 L307.5 347.8 L306.4 347.7 L305.3 347.8 L304.1 347.2 L303.0 347.5 L301.9 348.4 L300.7 347.5 L299.6 348.8 L298.5 349.2 L297.3 349.5 L296.2 349.9" stroke-width="6.12"/><path d="M296.2 349.9 L295.0 350.7 L293.9 350.3 L292.7 349.9 L291.6 349.7 L290.4 349.6 L289.3 351.1 L288.2 352.0 L287.0 351.1 L285.9 352.2 L284.7 352.3 L283.6 352.8 L282.4 353.5" stroke-width="6.14"/><path d="M282.4 353.5 L281.3 353.8 L280.1 353.6 L279.0 354.9 L277.8 355.0 L276.7 354.5 L275.5 356.2 L274.4 357.2 L273.2 356.8 L272.1 358.1 L271.0 357.2 L269.9 358.1 L268.8 359.5" stroke-width="6.17"/><path d="M268.8 359.5 L268.0 360.0 L267.3 360.0 L266.5 360.6 L265.8 360.3 L265.0 361.1 L264.3 361.7 L263.6 362.2 L262.8 362.3 L262.1 362.9 L261.3 363.1 L260.6 363.6 L259.9 362.9" stroke-width="6.20"/><path d="M259.9 362.9 L259.2 364.3 L258.4 364.1 L257.7 364.7 L256.7 365.5 L255.6 366.3 L254.5 366.2 L253.5 367.1 L252.5 368.1 L251.5 368.5 L250.4 369.3 L249.4 370.0 L248.4 370.7" stroke-width="6.23"/><path d="M248.4 370.7 L247.5 370.9 L246.5 371.9 L245.5 372.8 L244.5 372.5 L243.6 374.1 L242.6 374.0 L241.7 375.2 L240.8 376.0 L239.8 376.8 L238.9 376.5 L238.0 377.2 L237.1 377.7" stroke-width="6.26"/><path d="M237.1 377.7 L236.2 379.3 L235.3 379.9 L234.4 379.6 L233.5 381.5 L232.6 382.6 L231.8 382.5 L230.9 383.3 L230.1 384.2 L229.2 384.3 L228.4 385.3 L227.6 386.5 L226.8 386.9" stroke-width="6.29"/><path d="M226.8 386.9 L226.0 387.7 L225.3 388.5 L224.5 390.1 L223.8 390.2 L223.1 390.9 L222.4 391.3 L221.7 392.8 L221.0 393.1 L220.3 393.8 L219.7 395.2 L219.1 396.1 L218.5 395.7" stroke-width="6.32"/><path d="M218.5 395.7 L217.8 396.6 L217.2 398.2 L216.7 398.3 L216.1 400.0 L215.5 400.0 L215.0 401.7 L214.4 401.2 L213.9 401.3 L213.3 402.2 L212.8 404.8 L212.3 404.4 L211.9 405.2" stroke-width="6.34"/><path d="M211.9 405.2 L211.4 405.9 L210.9 406.6 L210.5 407.9 L210.0 408.7 L209.6 409.1 L209.2 409.9 L208.7 411.7 L208.3 412.4 L207.9 413.2 L207.4 414.1 L207.0 414.2 L206.6 415.5" stroke-width="6.37"/><path d="M206.6 415.5 L206.1 416.8 L205.7 416.4 L205.2 418.2 L204.8 417.2 L204.3 418.1 L203.9 419.1 L203.5 420.3 L203.0 421.1 L202.6 422.2 L202.2 423.7 L201.8 423.8 L201.5 424.7" stroke-width="6.39"/><path d="M201.5 424.7 L201.1 424.9 L200.8 425.4 L200.5 426.8 L199.9 427.9 L199.4 429.9 L199.0 430.7 L198.6 430.7 L198.3 432.9 L198.0 433.0 L197.9 434.3 L197.8 435.0 L197.8 436.0" stroke-width="6.42"/><path d="M197.8 436.0 L197.9 437.1 L198.1 437.8 L198.3 438.9 L198.6 440.0 L199.1 441.4 L199.6 442.3 L200.3 443.6 L201.1 442.7 L202.1 443.7 L203.2 445.2 L204.4 444.7 L205.7 445.5" stroke-width="6.44"/><path d="M205.7 445.5 L207.0 446.5 L208.3 447.4 L209.6 447.4 L210.9 447.6 L212.2 447.7 L213.6 448.3 L215.0 448.4 L216.5 448.7 L217.9 448.4 L218.7 448.6 L219.5 448.3 L220.2 448.2" stroke-width="6.48"/><path d="M220.2 448.2 L221.0 448.3 L221.8 448.3 L222.6 448.4 L223.4 448.5 L224.2 448.0 L225.0 448.8 L225.8 448.9 L226.6 449.5 L227.4 447.5 L228.3 447.6 L229.1 447.8 L230.0 447.8" stroke-width="6.50"/><path d="M230.0 447.8 L230.9 448.1 L231.8 447.6 L232.8 447.4 L233.7 447.9 L234.7 447.4 L235.7 446.3 L236.8 447.3 L237.8 447.8 L238.9 447.0 L240.1 446.0 L241.2 446.3 L242.4 445.3" stroke-width="6.53"/><path d="M242.4 445.3 L243.5 444.7 L244.7 444.5 L245.9 444.7 L246.7 443.9 L247.5 443.3 L248.3 442.4 L249.0 442.9 L249.8 442.0 L250.6 442.2 L251.7 441.1 L252.9 440.9 L254.0 440.4" stroke-width="6.55"/><path d="M254.0 440.4 L255.2 440.1 L256.3 439.4 L257.4 440.1 L258.6 439.6 L259.7 438.6 L260.8 437.7 L261.9 438.2 L263.1 437.2 L264.2 437.0 L265.3 436.7 L266.5 435.6 L267.6 435.4" stroke-width="6.58"/><path d="M267.6 435.4 L268.7 434.9 L269.5 434.1 L270.2 433.9 L271.0 433.3 L271.8 431.5 L272.5 432.5 L273.3 433.3 L274.0 432.8 L274.8 433.3 L275.6 431.7 L276.3 431.6 L277.1 430.5" stroke-width="6.61"/><path d="M277.1 430.5 L277.9 430.0 L278.6 429.5 L279.4 429.8 L280.1 429.7 L280.9 428.0 L281.7 428.7 L282.4 428.6 L283.2 428.2 L284.0 426.8 L284.7 427.0 L285.5 426.7 L286.3 425.6" stroke-width="6.64"/><path d="M286.3 425.6 L287.0 425.1 L287.8 426.4 L288.5 424.8 L289.3 424.3 L290.1 423.2 L290.8 423.3 L291.6 424.0 L292.3 423.3 L293.1 422.2 L293.9 422.1 L294.6 421.9 L295.4 421.6" stroke-width="6.66"/><path d="M295.4 421.6 L296.2 420.4 L296.9 420.6 L297.7 419.7 L298.5 419.3 L299.2 418.7 L300.0 418.3 L300.7 418.5 L301.5 417.0 L302.2 417.4 L303.0 418.4 L303.8 416.4 L304.5 416.0" stroke-width="6.68"/><path d="M304.5 416.0 L305.3 415.7 L306.0 416.1 L306.8 414.3 L307.5 414.7 L308.2 414.1 L309.0 414.7 L309.7 413.3 L310.5 413.9 L311.2 412.1 L312.0 412.2 L312.7 411.1 L313.5 410.8" stroke-width="6.72"/><path d="M313.5 410.8 L314.2 410.1 L315.0 410.1 L315.7 410.7 L316.4 409.4 L317.2 410.4 L317.9 409.8 L318.7 408.7 L319.7 407.8 L320.8 407.3 L321.9 406.2 L322.9 406.2 L324.0 405.5" stroke-width="6.82"/><path d="M324.0 405.5 L325.0 403.9 L326.0 404.1 L327.0 403.9 L328.0 403.2 L328.9 402.7 L329.9 402.0 L330.8 401.2 L331.7 401.4 L332.7 401.1 L333.6 399.8 L334.5 399.7 L335.4 398.3" stroke-width="6.96"/><path d="M335.4 398.3 L336.3 398.8 L337.2 397.3 L338.1 397.1 L339.1 397.0 L340.0 395.8 L340.9 395.4 L341.9 395.4 L342.8 394.1 L343.7 393.9 L344.7 393.8 L345.6 392.9 L346.5 391.7" stroke-width="7.10"/><path d="M346.5 391.7 L347.5 391.3 L348.4 390.8 L349.4 390.4 L350.3 390.1 L351.2 388.5 L352.2 388.5 L353.1 388.2 L354.1 388.3 L355.0 386.4 L356.0 385.9 L356.9 386.3 L357.9 385.4" stroke-width="7.18"/><path d="M357.9 385.4 L358.8 385.3 L359.8 384.3 L360.7 383.3 L361.7 383.0 L362.7 383.1 L363.6 382.4 L364.6 381.6 L365.6 381.0 L366.5 380.9 L367.5 380.2 L368.4 379.5 L369.4 379.1" stroke-width="7.26"/><path d="M369.4 379.1 L370.3 378.3 L371.2 377.2 L372.2 377.5 L373.1 377.3 L374.0 376.9 L374.9 375.7 L375.8 374.5 L376.7 374.7 L377.6 373.9 L378.5 372.7 L379.4 373.1 L380.4 372.3" stroke-width="7.30"/><path d="M380.4 372.3 L381.3 372.1 L382.2 371.4 L383.1 371.5 L384.1 371.2 L385.0 370.5 L385.9 370.4 L386.9 369.1 L387.8 369.9 L388.7 367.7 L389.7 368.1 L390.6 368.0 L391.6 366.8" stroke-width="7.29"/><path d="M391.6 366.8 L392.5 366.5 L393.5 365.5 L394.4 365.3 L395.4 365.2 L396.4 364.1 L397.5 363.1 L398.5 363.4 L399.6 362.7 L400.7 362.2 L401.5 362.2 L402.2 361.3 L403.0 362.1" stroke-width="7.22"/><path d="M403.0 362.1 L403.8 361.9 L404.6 361.0 L405.5 360.3 L406.3 360.1 L407.1 359.7 L408.0 359.0 L408.9 358.6 L409.7 358.8 L410.6 357.8 L411.5 357.5 L412.3 357.2 L413.2 356.5" stroke-width="7.12"/><path d="M413.2 356.5 L414.1 356.7 L415.0 355.7 L415.8 356.3 L416.7 356.0 L417.5 355.3 L418.4 355.4 L419.2 355.2 L420.1 354.2 L420.9 354.0 L421.7 353.4 L422.5 353.2 L423.3 352.9" stroke-width="7.02"/><path d="M423.3 352.9 L424.1 352.9 L424.9 352.9 L425.7 353.5 L426.9 352.4 L428.1 352.2 L429.3 351.3 L430.5 351.8 L431.6 350.9 L432.8 350.3 L434.0 349.9 L435.2 349.8 L436.4 349.3" stroke-width="6.82"/><path d="M436.4 349.3 L437.6 349.3 L438.8 349.9 L440.0 349.0 L440.9 348.3 L441.7 347.6 L442.6 348.2 L443.5 347.8 L444.5 347.7 L445.4 348.0 L446.4 348.1 L447.3 348.1 L448.3 348.3" stroke-width="6.67"/><path d="M448.3 348.3 L449.3 347.3 L450.2 347.2 L451.2 347.0 L452.1 346.8 L453.0 346.9 L453.9 346.8 L455.2 347.4 L456.4 346.6 L457.4 348.0 L458.5 346.1 L459.2 347.1 L460.0 346.8" stroke-width="6.86"/></g>
</g>
<g stroke="#000" stroke-width="2.8" fill="none">
<rect x="133.7" y="13.3" width="830.0" height="668.3"/>
<line x1="119.7" y1="13.3" x2="133.7" y2="13.3"/>
<line x1="126.4" y1="69.0" x2="133.7" y2="69.0"/>
<line x1="119.7" y1="124.7" x2="133.7" y2="124.7"/>
<line x1="126.4" y1="180.4" x2="133.7" y2="180.4"/>
<line x1="119.7" y1="236.1" x2="133.7" y2="236.1"/>
<line x1="126.4" y1="291.8" x2="133.7" y2="291.8"/>
<line x1="119.7" y1="347.5" x2="133.7" y2="347.5"/>
<line x1="126.4" y1="403.1" x2="133.7" y2="403.1"/>
<line x1="119.7" y1="458.8" x2="133.7" y2="458.8"/>
<line x1="126.4" y1="514.5" x2="133.7" y2="514.5"/>
<line x1="119.7" y1="570.2" x2="133.7" y2="570.2"/>
<line x1="126.4" y1="625.9" x2="133.7" y2="625.9"/>
<line x1="119.7" y1="681.6" x2="133.7" y2="681.6"/>
<line x1="133.7" y1="681.6" x2="133.7" y2="693.9"/>
<line x1="216.7" y1="681.6" x2="216.7" y2="688.4"/>
<line x1="299.7" y1="681.6" x2="299.7" y2="693.9"/>
<line x1="382.7" y1="681.6" x2="382.7" y2="688.4"/>
<line x1="465.7" y1="681.6" x2="465.7" y2="693.9"/>
<line x1="548.7" y1="681.6" x2="548.7" y2="688.4"/>
<line x1="631.7" y1="681.6" x2="631.7" y2="693.9"/>
<line x1="714.7" y1="681.6" x2="714.7" y2="688.4"/>
<line x1="797.7" y1="681.6" x2="797.7" y2="693.9"/>
<line x1="880.7" y1="681.6" x2="880.7" y2="688.4"/>
<line x1="963.7" y1="681.6" x2="963.7" y2="693.9"/>
</g>
<g font-family="'Liberation Sans', Arial, Helvetica, sans-serif" fill="#000">
<text transform="translate(109.8,22.9) scale(1,1.045)" font-size="31.5" text-anchor="end" >120</text>
<text transform="translate(109.8,134.3) scale(1,1.045)" font-size="31.5" text-anchor="end" >80</text>
<text transform="translate(109.8,245.7) scale(1,1.045)" font-size="31.5" text-anchor="end" >40</text>
<text transform="translate(109.8,357.1) scale(1,1.045)" font-size="31.5" text-anchor="end" >0</text>
<text transform="translate(109.8,468.4) scale(1,1.045)" font-size="31.5" text-anchor="end" >-40</text>
<text transform="translate(109.8,579.8) scale(1,1.045)" font-size="31.5" text-anchor="end" >-80</text>
<text transform="translate(109.8,691.2) scale(1,1.045)" font-size="31.5" text-anchor="end" >-120</text>
<text transform="translate(133.4,727.8) scale(1,1.045)" font-size="31.5" text-anchor="middle" >-1.5</text>
<text transform="translate(299.4,727.8) scale(1,1.045)" font-size="31.5" text-anchor="middle" >-1.25</text>
<text transform="translate(465.4,727.8) scale(1,1.045)" font-size="31.5" text-anchor="middle" >-1</text>
<text transform="translate(631.4,727.8) scale(1,1.045)" font-size="31.5" text-anchor="middle" >-0.75</text>
<text transform="translate(797.4,727.8) scale(1,1.045)" font-size="31.5" text-anchor="middle" >-0.5</text>
<text transform="translate(963.4,727.8) scale(1,1.045)" font-size="31.5" text-anchor="middle" >-0.25</text>
</g>
<g fill="#000" stroke="none">
<polygon points="294,330.3 309,323.2 309,337.5"/>
<polygon points="293.9,453.2 277.4,453.2 284.2,466.1"/>
</g>
<g stroke="#000" stroke-width="2.7" stroke-dasharray="2.4 2.06" fill="none">
<line x1="309.8" y1="330.3" x2="393" y2="330.3"/>
<line x1="204.3" y1="497.4" x2="279" y2="460.0"/>
</g>
<g stroke-width="5" fill="none">
<line x1="668.3" y1="518.0" x2="722.6" y2="518.0" stroke="#0000ff"/>
<line x1="668.3" y1="564.3" x2="722.6" y2="564.3" stroke="#ff0000"/>
<line x1="668.3" y1="609.6" x2="722.6" y2="609.6" stroke="#f58231"/>
<line x1="668.3" y1="655.6" x2="722.6" y2="655.6" stroke="#00dc00"/>
</g>
<g font-family="'Liberation Sans', Arial, Helvetica, sans-serif" fill="#000">
<text transform="translate(734.4,527.9) scale(1,1.045)" font-size="35.8" text-anchor="start" >No Additive</text>
<text transform="translate(734.4,573.9) scale(1,1.045)" font-size="35.8" text-anchor="start" >1 µM BDAC</text>
<text transform="translate(734.4,619.6) scale(1,1.045)" font-size="35.8" text-anchor="start" >5 µM BDAC</text>
<text transform="translate(734.4,666.3) scale(1,1.045)" font-size="35.8" text-anchor="start" >10 µM BDAC</text>
</g>
<path d="M957.4 645.8 v3 M957.4 657 v5.4" stroke="#4f86d8" stroke-width="1.2" fill="none" opacity="0.85"/>
<g fill="#000">
<text x="362.2" y="781.7" font-family="'Liberation Serif', 'Times New Roman', Times, serif" font-style="italic" font-size="41">V</text>
<text x="394.9" y="781.7" font-family="'Liberation Serif', 'Times New Roman', Times, serif" font-size="42">–</text>
<text x="426.9" y="781.7" font-family="'Liberation Serif', 'Times New Roman', Times, serif" font-style="italic" font-size="41.3">IR</text>
<text transform="translate(464.9,791.6) scale(1.15,1)" font-family="'Liberation Serif', 'Times New Roman', Times, serif" font-size="29">Ω</text>
<g font-family="'Liberation Sans', Arial, Helvetica, sans-serif"><text transform="translate(497.3,781.7) scale(1,1.045)" font-size="35.9" text-anchor="start" >(V vs. Ag/AgCl)</text></g>
</g>
<g transform="translate(28.4,442) rotate(-90)" fill="#000">
<text x="0" y="0" font-family="'Liberation Serif', 'Times New Roman', Times, serif" font-style="italic" font-size="41.5">i</text>
<g font-family="'Liberation Sans', Arial, Helvetica, sans-serif">
<text transform="translate(21.7,0) scale(1.008,1.045)" font-size="36">(mA/cm</text>
<text transform="translate(145.6,-11.2) scale(1.15,1.045)" font-size="22">2</text>
<text transform="translate(160.8,0) scale(1.008,1.045)" font-size="36">)</text>
</g></g>
</svg>
</body></html>
